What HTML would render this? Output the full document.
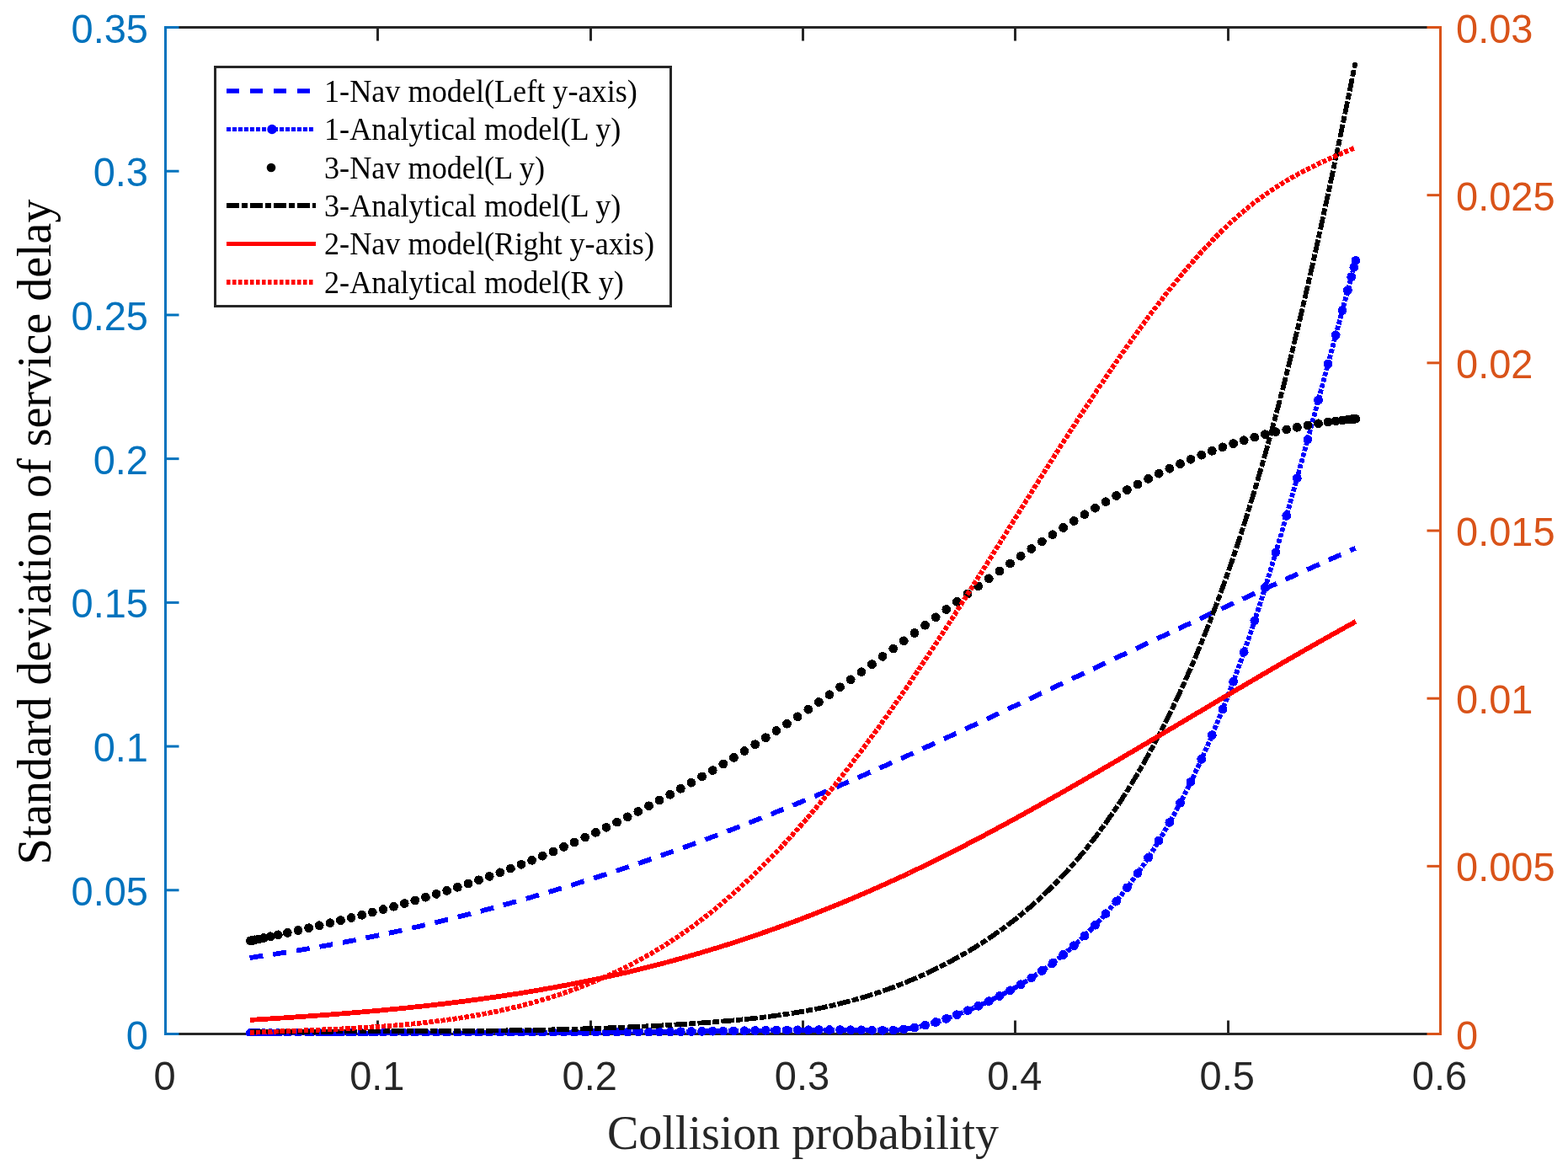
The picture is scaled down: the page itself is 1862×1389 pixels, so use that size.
<!DOCTYPE html>
<html><head><meta charset="utf-8"><style>
html,body{margin:0;padding:0;background:#fff;}
svg{display:block;}
text{font-family:"Liberation Sans",Arial,Helvetica,sans-serif;font-size:47px;}
.sf{font-family:"Liberation Serif","Times New Roman",Times,serif;}
.xl{font-size:56px;}
.lg{font-size:36.2px;}
</style></head><body>
<svg width="1862" height="1389" viewBox="0 0 1862 1389">
<defs><clipPath id="pc"><rect x="190" y="26" width="1526" height="1204"/></clipPath></defs>
<rect width="1862" height="1389" fill="#fff"/>
<line x1="196.50" y1="1227.5" x2="196.50" y2="1211.5" stroke="#262626" stroke-width="3"/>
<line x1="196.50" y1="32.5" x2="196.50" y2="48.5" stroke="#262626" stroke-width="3"/>
<line x1="448.50" y1="1227.5" x2="448.50" y2="1211.5" stroke="#262626" stroke-width="3"/>
<line x1="448.50" y1="32.5" x2="448.50" y2="48.5" stroke="#262626" stroke-width="3"/>
<line x1="701.50" y1="1227.5" x2="701.50" y2="1211.5" stroke="#262626" stroke-width="3"/>
<line x1="701.50" y1="32.5" x2="701.50" y2="48.5" stroke="#262626" stroke-width="3"/>
<line x1="953.50" y1="1227.5" x2="953.50" y2="1211.5" stroke="#262626" stroke-width="3"/>
<line x1="953.50" y1="32.5" x2="953.50" y2="48.5" stroke="#262626" stroke-width="3"/>
<line x1="1205.50" y1="1227.5" x2="1205.50" y2="1211.5" stroke="#262626" stroke-width="3"/>
<line x1="1205.50" y1="32.5" x2="1205.50" y2="48.5" stroke="#262626" stroke-width="3"/>
<line x1="1458.50" y1="1227.5" x2="1458.50" y2="1211.5" stroke="#262626" stroke-width="3"/>
<line x1="1458.50" y1="32.5" x2="1458.50" y2="48.5" stroke="#262626" stroke-width="3"/>
<line x1="1710.50" y1="1227.5" x2="1710.50" y2="1211.5" stroke="#262626" stroke-width="3"/>
<line x1="1710.50" y1="32.5" x2="1710.50" y2="48.5" stroke="#262626" stroke-width="3"/>
<line x1="195.0" y1="32.5" x2="1712.0" y2="32.5" stroke="#262626" stroke-width="3"/>
<line x1="195.0" y1="1227.5" x2="1712.0" y2="1227.5" stroke="#262626" stroke-width="3"/>
<text transform="translate(195.50,1278) scale(1,1.035)" y="15.5" text-anchor="middle" fill="#262626">0</text>
<text transform="translate(447.83,1278) scale(1,1.035)" y="15.5" text-anchor="middle" fill="#262626">0.1</text>
<text transform="translate(700.17,1278) scale(1,1.035)" y="15.5" text-anchor="middle" fill="#262626">0.2</text>
<text transform="translate(952.50,1278) scale(1,1.035)" y="15.5" text-anchor="middle" fill="#262626">0.3</text>
<text transform="translate(1204.83,1278) scale(1,1.035)" y="15.5" text-anchor="middle" fill="#262626">0.4</text>
<text transform="translate(1457.17,1278) scale(1,1.035)" y="15.5" text-anchor="middle" fill="#262626">0.5</text>
<text transform="translate(1709.50,1278) scale(1,1.035)" y="15.5" text-anchor="middle" fill="#262626">0.6</text>
<line x1="196.5" y1="31.0" x2="196.5" y2="1229.0" stroke="#0072BD" stroke-width="3"/>
<line x1="196.5" y1="1227.50" x2="212.5" y2="1227.50" stroke="#0072BD" stroke-width="3"/>
<text transform="translate(176,1229.50) scale(1,1.035)" y="15.5" text-anchor="end" fill="#0072BD">0</text>
<line x1="196.5" y1="1056.79" x2="212.5" y2="1056.79" stroke="#0072BD" stroke-width="3"/>
<text transform="translate(176,1058.79) scale(1,1.035)" y="15.5" text-anchor="end" fill="#0072BD">0.05</text>
<line x1="196.5" y1="886.07" x2="212.5" y2="886.07" stroke="#0072BD" stroke-width="3"/>
<text transform="translate(176,888.07) scale(1,1.035)" y="15.5" text-anchor="end" fill="#0072BD">0.1</text>
<line x1="196.5" y1="715.36" x2="212.5" y2="715.36" stroke="#0072BD" stroke-width="3"/>
<text transform="translate(176,717.36) scale(1,1.035)" y="15.5" text-anchor="end" fill="#0072BD">0.15</text>
<line x1="196.5" y1="544.64" x2="212.5" y2="544.64" stroke="#0072BD" stroke-width="3"/>
<text transform="translate(176,546.64) scale(1,1.035)" y="15.5" text-anchor="end" fill="#0072BD">0.2</text>
<line x1="196.5" y1="373.93" x2="212.5" y2="373.93" stroke="#0072BD" stroke-width="3"/>
<text transform="translate(176,375.93) scale(1,1.035)" y="15.5" text-anchor="end" fill="#0072BD">0.25</text>
<line x1="196.5" y1="203.21" x2="212.5" y2="203.21" stroke="#0072BD" stroke-width="3"/>
<text transform="translate(176,205.21) scale(1,1.035)" y="15.5" text-anchor="end" fill="#0072BD">0.3</text>
<line x1="196.5" y1="32.50" x2="212.5" y2="32.50" stroke="#0072BD" stroke-width="3"/>
<text transform="translate(176,34.50) scale(1,1.035)" y="15.5" text-anchor="end" fill="#0072BD">0.35</text>
<line x1="1710.5" y1="31.0" x2="1710.5" y2="1229.0" stroke="#D95319" stroke-width="3"/>
<line x1="1710.5" y1="1227.50" x2="1694.5" y2="1227.50" stroke="#D95319" stroke-width="3"/>
<text transform="translate(1729,1229.50) scale(1,1.035)" y="15.5" fill="#D95319">0</text>
<line x1="1710.5" y1="1028.33" x2="1694.5" y2="1028.33" stroke="#D95319" stroke-width="3"/>
<text transform="translate(1729,1030.33) scale(1,1.035)" y="15.5" fill="#D95319">0.005</text>
<line x1="1710.5" y1="829.17" x2="1694.5" y2="829.17" stroke="#D95319" stroke-width="3"/>
<text transform="translate(1729,831.17) scale(1,1.035)" y="15.5" fill="#D95319">0.01</text>
<line x1="1710.5" y1="630.00" x2="1694.5" y2="630.00" stroke="#D95319" stroke-width="3"/>
<text transform="translate(1729,632.00) scale(1,1.035)" y="15.5" fill="#D95319">0.015</text>
<line x1="1710.5" y1="430.83" x2="1694.5" y2="430.83" stroke="#D95319" stroke-width="3"/>
<text transform="translate(1729,432.83) scale(1,1.035)" y="15.5" fill="#D95319">0.02</text>
<line x1="1710.5" y1="231.67" x2="1694.5" y2="231.67" stroke="#D95319" stroke-width="3"/>
<text transform="translate(1729,233.67) scale(1,1.035)" y="15.5" fill="#D95319">0.025</text>
<line x1="1710.5" y1="32.50" x2="1694.5" y2="32.50" stroke="#D95319" stroke-width="3"/>
<text transform="translate(1729,34.50) scale(1,1.035)" y="15.5" fill="#D95319">0.03</text>
<text x="953.5" y="1363.5" text-anchor="middle" fill="#262626" class="sf xl">Collision probability</text>
<text transform="translate(60,631.5) rotate(-90)" text-anchor="middle" fill="#000" class="sf xl">Standard deviation of service delay</text>
<g clip-path="url(#pc)" shape-rendering="crispEdges">
<path d="M296.5 1137.0l1.5 -0.2l1.5 -0.2l1.5 -0.2l1.5 -0.2l1.4 -0.2l1.5 -0.3l1.5 -0.2l1.5 -0.2l1.5 -0.2l1.5 -0.2l1.5 -0.2l1.5 -0.2l1.4 -0.3l1.5 -0.2l1.5 -0.2l1.5 -0.2l1.5 -0.2l1.5 -0.3l1.5 -0.2l1.4 -0.2l1.5 -0.2l1.5 -0.3l1.5 -0.2l1.5 -0.2l1.5 -0.3l1.4 -0.2l1.5 -0.2l1.5 -0.2l1.5 -0.3l1.5 -0.2l1.5 -0.3l1.5 -0.2l1.4 -0.2l1.5 -0.3l1.5 -0.2l1.5 -0.3l1.5 -0.2l1.5 -0.2l1.4 -0.3l1.5 -0.2l1.5 -0.3l1.5 -0.2l1.5 -0.3l1.4 -0.2l1.5 -0.3l1.5 -0.2l1.5 -0.3l1.5 -0.2l1.4 -0.3l1.5 -0.2l1.5 -0.3l1.5 -0.3l1.5 -0.2l1.4 -0.3l1.5 -0.2l1.5 -0.3l1.5 -0.3l1.5 -0.2l1.4 -0.3l1.5 -0.2l1.5 -0.3l1.5 -0.3l1.5 -0.3l1.4 -0.2l1.5 -0.3l1.5 -0.3l1.5 -0.2l1.4 -0.3l1.5 -0.3l1.5 -0.3l1.5 -0.2l1.5 -0.3l1.4 -0.3l1.5 -0.3l1.5 -0.2l1.5 -0.3l1.4 -0.3l1.5 -0.3l1.5 -0.3l1.5 -0.3l1.4 -0.3l1.5 -0.2l1.5 -0.3l1.5 -0.3l1.4 -0.3l1.5 -0.3l1.5 -0.3l1.5 -0.3l1.4 -0.3l1.5 -0.3l1.5 -0.3l1.5 -0.3l1.4 -0.3l1.5 -0.3l1.5 -0.3l1.4 -0.3l1.5 -0.3l1.5 -0.3l1.5 -0.3l1.4 -0.3l1.5 -0.3l1.5 -0.3l1.4 -0.3l1.5 -0.3l1.5 -0.3l1.5 -0.3l1.4 -0.3l1.5 -0.3l1.5 -0.3l1.4 -0.4l1.5 -0.3l1.5 -0.3l1.4 -0.3l1.5 -0.3l1.5 -0.3l1.4 -0.4l1.5 -0.3l1.5 -0.3l1.4 -0.3l1.5 -0.3l1.5 -0.4l1.4 -0.3l1.5 -0.3l1.5 -0.3l1.4 -0.4l1.5 -0.3l1.5 -0.3l1.4 -0.4l1.5 -0.3l1.5 -0.3l1.4 -0.4l1.5 -0.3l1.5 -0.3l1.4 -0.4l1.5 -0.3l1.5 -0.3l1.4 -0.4l1.5 -0.3l1.5 -0.4l1.4 -0.3l1.5 -0.3l1.4 -0.4l1.5 -0.3l1.5 -0.4l1.4 -0.3l1.5 -0.4l1.5 -0.3l1.4 -0.4l1.5 -0.3l1.4 -0.4l1.5 -0.3l1.5 -0.4l1.4 -0.3l1.5 -0.4l1.4 -0.3l1.5 -0.4l1.5 -0.3l1.4 -0.4l1.5 -0.4l1.4 -0.3l1.5 -0.4l1.5 -0.3l1.4 -0.4l1.5 -0.4l1.4 -0.3l1.5 -0.4l1.4 -0.3l1.5 -0.4l1.5 -0.4l1.4 -0.3l1.5 -0.4l1.4 -0.4l1.5 -0.4l1.4 -0.3l1.5 -0.4l1.4 -0.4l1.5 -0.3l1.5 -0.4l1.4 -0.4l1.5 -0.4l1.4 -0.4l1.5 -0.3l1.4 -0.4l1.5 -0.4l1.4 -0.4l1.5 -0.4l1.4 -0.3l1.5 -0.4l1.4 -0.4l1.5 -0.4l1.5 -0.4l1.4 -0.4l1.5 -0.3l1.4 -0.4l1.5 -0.4l1.4 -0.4l1.5 -0.4l1.4 -0.4l1.5 -0.4l1.4 -0.4l1.5 -0.4l1.4 -0.4l1.5 -0.4l1.4 -0.4l1.5 -0.4l1.4 -0.4l1.5 -0.4l1.4 -0.4l1.5 -0.4l1.4 -0.4l1.4 -0.4l1.5 -0.4l1.4 -0.4l1.5 -0.4l1.4 -0.4l1.5 -0.4l1.4 -0.4l1.5 -0.4l1.4 -0.4l1.5 -0.4l1.4 -0.4l1.5 -0.5l1.4 -0.4l1.4 -0.4l1.5 -0.4l1.4 -0.4l1.5 -0.4l1.4 -0.4l1.5 -0.5l1.4 -0.4l1.4 -0.4l1.5 -0.4l1.4 -0.4l1.5 -0.5l1.4 -0.4l1.5 -0.4l1.4 -0.4l1.4 -0.4l1.5 -0.5l1.4 -0.4l1.5 -0.4l1.4 -0.5l1.4 -0.4l1.5 -0.4l1.4 -0.4l1.5 -0.5l1.4 -0.4l1.4 -0.4l1.5 -0.5l1.4 -0.4l1.5 -0.4l1.4 -0.5l1.4 -0.4l1.5 -0.4l1.4 -0.5l1.4 -0.4l1.5 -0.5l1.4 -0.4l1.5 -0.4l1.4 -0.5l1.4 -0.4l1.5 -0.5l1.4 -0.4l1.4 -0.5l1.5 -0.4l1.4 -0.5l1.4 -0.4l1.5 -0.5l1.4 -0.4l1.4 -0.5l1.5 -0.4l1.4 -0.5l1.4 -0.4l1.5 -0.5l1.4 -0.4l1.4 -0.5l1.5 -0.4l1.4 -0.5l1.4 -0.4l1.5 -0.5l1.4 -0.4l1.4 -0.5l1.4 -0.5l1.5 -0.4l1.4 -0.5l1.4 -0.4l1.5 -0.5l1.4 -0.5l1.4 -0.4l1.5 -0.5l1.4 -0.5l1.4 -0.4l1.4 -0.5l1.5 -0.5l1.4 -0.4l1.4 -0.5l1.5 -0.5l1.4 -0.4l1.4 -0.5l1.4 -0.5l1.5 -0.5l1.4 -0.4l1.4 -0.5l1.4 -0.5l1.5 -0.5l1.4 -0.4l1.4 -0.5l1.4 -0.5l1.5 -0.5l1.4 -0.5l1.4 -0.4l1.4 -0.5l1.4 -0.5l1.5 -0.5l1.4 -0.5l1.4 -0.4l1.4 -0.5l1.5 -0.5l1.4 -0.5l1.4 -0.5l1.4 -0.5l1.4 -0.5l1.5 -0.5l1.4 -0.4l1.4 -0.5l1.4 -0.5l1.4 -0.5l1.5 -0.5l1.4 -0.5l1.4 -0.5l1.4 -0.5l1.4 -0.5l1.5 -0.5l1.4 -0.5l1.4 -0.5l1.4 -0.5l1.4 -0.5l1.4 -0.5l1.5 -0.5l1.4 -0.5l1.4 -0.5l1.4 -0.5l1.4 -0.5l1.4 -0.5l1.5 -0.5l1.4 -0.5l1.4 -0.5l1.4 -0.5l1.4 -0.5l1.4 -0.5l1.4 -0.5l1.5 -0.5l1.4 -0.5l1.4 -0.6l1.4 -0.5l1.4 -0.5l1.4 -0.5l1.4 -0.5l1.4 -0.5l1.5 -0.5l1.4 -0.6l1.4 -0.5l1.4 -0.5l1.4 -0.5l1.4 -0.5l1.4 -0.5l1.4 -0.6l1.4 -0.5l1.5 -0.5l1.4 -0.5l1.4 -0.5l1.4 -0.6l1.4 -0.5l1.4 -0.5l1.4 -0.5l1.4 -0.6l1.4 -0.5l1.4 -0.5l1.4 -0.5l1.4 -0.6l1.4 -0.5l1.5 -0.5l1.4 -0.6l1.4 -0.5l1.4 -0.5l1.4 -0.6l1.4 -0.5l1.4 -0.5l1.4 -0.6l1.4 -0.5l1.4 -0.5l1.4 -0.6l1.4 -0.5l1.4 -0.5l1.4 -0.6l1.4 -0.5l1.4 -0.5l1.4 -0.6l1.4 -0.5l1.4 -0.6l1.4 -0.5l1.4 -0.5l1.4 -0.6l1.4 -0.5l1.4 -0.6l1.4 -0.5l1.4 -0.6l1.4 -0.5l1.4 -0.6l1.4 -0.5l1.4 -0.6l1.4 -0.5l1.4 -0.6l1.4 -0.5l1.4 -0.6l1.4 -0.5l1.4 -0.6l1.4 -0.5l1.4 -0.6l1.4 -0.5l1.4 -0.6l1.4 -0.5l1.4 -0.6l1.4 -0.5l1.4 -0.6l1.4 -0.6l1.4 -0.5l1.4 -0.6l1.4 -0.5l1.4 -0.6l1.3 -0.6l1.4 -0.5l1.4 -0.6l1.4 -0.5l1.4 -0.6l1.4 -0.6l1.4 -0.5l1.4 -0.6l1.4 -0.6l1.4 -0.5l1.4 -0.6l1.4 -0.6l1.4 -0.5l1.3 -0.6l1.4 -0.6l1.4 -0.5l1.4 -0.6l1.4 -0.6l1.4 -0.5l1.4 -0.6l1.4 -0.6l1.4 -0.6l1.4 -0.5l1.3 -0.6l1.4 -0.6l1.4 -0.6l1.4 -0.5l1.4 -0.6l1.4 -0.6l1.4 -0.6l1.4 -0.5l1.3 -0.6l1.4 -0.6l1.4 -0.6l1.4 -0.6l1.4 -0.5l1.4 -0.6l1.4 -0.6l1.3 -0.6l1.4 -0.6l1.4 -0.6l1.4 -0.5l1.4 -0.6l1.4 -0.6l1.3 -0.6l1.4 -0.6l1.4 -0.6l1.4 -0.6l1.4 -0.6l1.4 -0.5l1.3 -0.6l1.4 -0.6l1.4 -0.6l1.4 -0.6l1.4 -0.6l1.3 -0.6l1.4 -0.6l1.4 -0.6l1.4 -0.6l1.4 -0.6l1.3 -0.6l1.4 -0.6l1.4 -0.6l1.4 -0.6l1.4 -0.6l1.3 -0.6l1.4 -0.6l1.4 -0.5l1.4 -0.6l1.3 -0.6l1.4 -0.6l1.4 -0.6l1.4 -0.7l1.4 -0.6l1.3 -0.6l1.4 -0.6l1.4 -0.6l1.4 -0.6l1.3 -0.6l1.4 -0.6l1.4 -0.6l1.4 -0.6l1.3 -0.6l1.4 -0.6l1.4 -0.6l1.4 -0.6l1.3 -0.6l1.4 -0.6l1.4 -0.6l1.4 -0.6l1.3 -0.7l1.4 -0.6l1.4 -0.6l1.3 -0.6l1.4 -0.6l1.4 -0.6l1.4 -0.6l1.3 -0.6l1.4 -0.6l1.4 -0.7l1.3 -0.6l1.4 -0.6l1.4 -0.6l1.4 -0.6l1.3 -0.6l1.4 -0.6l1.4 -0.7l1.3 -0.6l1.4 -0.6l1.4 -0.6l1.4 -0.6l1.3 -0.6l1.4 -0.7l1.4 -0.6l1.3 -0.6l1.4 -0.6l1.4 -0.6l1.3 -0.7l1.4 -0.6l1.4 -0.6l1.3 -0.6l1.4 -0.6l1.4 -0.7l1.3 -0.6l1.4 -0.6l1.4 -0.6l1.3 -0.7l1.4 -0.6l1.4 -0.6l1.3 -0.6l1.4 -0.6l1.4 -0.7l1.3 -0.6l1.4 -0.6l1.4 -0.6l1.3 -0.7l1.4 -0.6l1.4 -0.6l1.3 -0.7l1.4 -0.6l1.4 -0.6l1.3 -0.6l1.4 -0.7l1.4 -0.6l1.3 -0.6l1.4 -0.6l1.4 -0.7l1.3 -0.6l1.4 -0.6l1.4 -0.7l1.3 -0.6l1.4 -0.6l1.3 -0.7l1.4 -0.6l1.4 -0.6l1.3 -0.7l1.4 -0.6l1.4 -0.6l1.3 -0.6l1.4 -0.7l1.4 -0.6l1.3 -0.6l1.4 -0.7l1.3 -0.6l1.4 -0.6l1.4 -0.7l1.3 -0.6l1.4 -0.6l1.4 -0.7l1.3 -0.6l1.4 -0.6l1.3 -0.7l1.4 -0.6l1.4 -0.7l1.3 -0.6l1.4 -0.6l1.3 -0.7l1.4 -0.6l1.4 -0.6l1.3 -0.7l1.4 -0.6l1.4 -0.6l1.3 -0.7l1.4 -0.6l1.3 -0.7l1.4 -0.6l1.4 -0.6l1.3 -0.7l1.4 -0.6l1.3 -0.6l1.4 -0.7l1.4 -0.6l1.3 -0.7l1.4 -0.6l1.3 -0.6l1.4 -0.7l1.4 -0.6l1.3 -0.7l1.4 -0.6l1.3 -0.6l1.4 -0.7l1.4 -0.6l1.3 -0.7l1.4 -0.6l1.3 -0.6l1.4 -0.7l1.3 -0.6l1.4 -0.7l1.4 -0.6l1.3 -0.6l1.4 -0.7l1.3 -0.6l1.4 -0.7l1.4 -0.6l1.3 -0.6l1.4 -0.7l1.3 -0.6l1.4 -0.7l1.4 -0.6l1.3 -0.6l1.4 -0.7l1.3 -0.6l1.4 -0.7l1.3 -0.6l1.4 -0.7l1.4 -0.6l1.3 -0.6l1.4 -0.7l1.3 -0.6l1.4 -0.7l1.4 -0.6l1.3 -0.7l1.4 -0.6l1.3 -0.6l1.4 -0.7l1.3 -0.6l1.4 -0.7l1.4 -0.6l1.3 -0.7l1.4 -0.6l1.3 -0.6l1.4 -0.7l1.3 -0.6l1.4 -0.7l1.4 -0.6l1.3 -0.7l1.4 -0.6l1.3 -0.6l1.4 -0.7l1.4 -0.6l1.3 -0.7l1.4 -0.6l1.3 -0.7l1.4 -0.6l1.3 -0.6l1.4 -0.7l1.4 -0.6l1.3 -0.7l1.4 -0.6l1.3 -0.7l1.4 -0.6l1.3 -0.6l1.4 -0.7l1.4 -0.6l1.3 -0.7l1.4 -0.6l1.3 -0.7l1.4 -0.6l1.4 -0.6l1.3 -0.7l1.4 -0.6l1.3 -0.7l1.4 -0.6l1.3 -0.7l1.4 -0.6l1.4 -0.6l1.3 -0.7l1.4 -0.6l1.3 -0.7l1.4 -0.6l1.4 -0.7l1.3 -0.6l1.4 -0.6l1.3 -0.7l1.4 -0.6l1.3 -0.7l1.4 -0.6l1.4 -0.6l1.3 -0.7l1.4 -0.6l1.3 -0.7l1.4 -0.6l1.4 -0.7l1.3 -0.6l1.4 -0.6l1.3 -0.7l1.4 -0.6l1.4 -0.7l1.3 -0.6l1.4 -0.6l1.3 -0.7l1.4 -0.6l1.3 -0.7l1.4 -0.6l1.4 -0.6l1.3 -0.7l1.4 -0.6l1.3 -0.7l1.4 -0.6l1.4 -0.6l1.3 -0.7l1.4 -0.6l1.3 -0.7l1.4 -0.6l1.4 -0.6l1.3 -0.7l1.4 -0.6l1.3 -0.7l1.4 -0.6l1.4 -0.6l1.3 -0.7l1.4 -0.6l1.3 -0.6l1.4 -0.7l1.4 -0.6l1.3 -0.7l1.4 -0.6l1.3 -0.6l1.4 -0.7l1.4 -0.6l1.3 -0.6l1.4 -0.7l1.3 -0.6l1.4 -0.7l1.4 -0.6l1.3 -0.6l1.4 -0.7l1.3 -0.6l1.4 -0.6l1.4 -0.7l1.3 -0.6l1.4 -0.7l1.4 -0.6l1.3 -0.6l1.4 -0.7l1.3 -0.6l1.4 -0.6l1.4 -0.7l1.3 -0.6l1.4 -0.6l1.3 -0.7l1.4 -0.6l1.4 -0.6l1.3 -0.7l1.4 -0.6l1.4 -0.6l1.3 -0.7l1.4 -0.6l1.3 -0.6l1.4 -0.7l1.4 -0.6l1.3 -0.7l1.4 -0.6l1.4 -0.6l1.3 -0.7l1.4 -0.6l1.3 -0.6l1.4 -0.6l1.4 -0.7l1.3 -0.6l1.4 -0.6l1.4 -0.7l1.3 -0.6l1.4 -0.6l1.3 -0.7l1.4 -0.6l1.4 -0.6l1.3 -0.7l1.4 -0.6l1.4 -0.6l1.3 -0.7l1.4 -0.6l1.3 -0.6l1.4 -0.7l1.4 -0.6l1.3 -0.6l1.4 -0.6l1.4 -0.7l1.3 -0.6l1.4 -0.6l1.4 -0.7l1.3 -0.6l1.4 -0.6l1.4 -0.7l1.3 -0.6l1.4 -0.6l1.3 -0.6l1.4 -0.7l1.4 -0.6l1.3 -0.6l1.4 -0.7l1.4 -0.6l1.3 -0.6l1.4 -0.6l1.4 -0.7l1.3 -0.6l1.4 -0.6l1.4 -0.6l1.3 -0.7l1.4 -0.6l1.4 -0.6l1.3 -0.7l1.4 -0.6l1.4 -0.6l1.3 -0.6l1.4 -0.7l1.4 -0.6l1.3 -0.6l1.4 -0.6l1.4 -0.7l1.3 -0.6l1.4 -0.6l1.4 -0.6l1.3 -0.7l1.4 -0.6l1.4 -0.6l1.3 -0.6l1.4 -0.6l1.4 -0.7l1.3 -0.6l1.4 -0.6l1.4 -0.6l1.3 -0.7l1.4 -0.6l1.4 -0.6l1.3 -0.6l1.4 -0.6l1.4 -0.7l1.3 -0.6l1.4 -0.6l1.4 -0.6l1.3 -0.7l1.4 -0.6l1.4 -0.6l1.3 -0.6l1.4 -0.6l1.4 -0.7l1.3 -0.6l1.4 -0.6l1.4 -0.6l1.4 -0.6l1.3 -0.7l1.4 -0.6l1.4 -0.6l1.3 -0.6l1.4 -0.6l1.4 -0.6l1.3 -0.7l1.4 -0.6l1.4 -0.6l1.3 -0.6l1.4 -0.6l1.4 -0.6l1.4 -0.7l1.3 -0.6l1.4 -0.6l1.4 -0.6l1.3 -0.6l1.4 -0.6l1.4 -0.7l1.4 -0.6l1.3 -0.6l1.4 -0.6l1.4 -0.6l1.3 -0.6l1.4 -0.6l1.4 -0.7l1.4 -0.6l1.3 -0.6l1.4 -0.6l1.4 -0.6l1.3 -0.6l1.4 -0.6l1.4 -0.6l1.4 -0.7l1.3 -0.6l1.4 -0.6l1.4 -0.6l1.3 -0.6l1.4 -0.6l1.4 -0.6l1.4 -0.6l1.3 -0.6l1.4 -0.6l1.4 -0.7l1.4 -0.6l1.3 -0.6l1.4 -0.6l1.4 -0.6l1.4 -0.6l1.3 -0.6l1.4 -0.6l1.4 -0.6l1.4 -0.6l1.3 -0.6l1.4 -0.6" fill="none" stroke="#00f" stroke-width="5.8" stroke-dasharray="16 12" stroke-linejoin="round"/>
<path d="M297.0 1226.5l1 0.0l1 0.0l1 0.0l1 0.0l1 0.0l1 0.0l1 0.0l1 0.0l1 0.0l1 0.0l1 0.0l1 0.0l1 0.0l1 0.0l1 0.0l1 0.0l1 0.0l1 0.0l1 0.0l1 0.0l1 0.0l1 0.0l1 0.0l1 0.0l1 0.0l1 0.0l1 0.0l1 0.0l1 0.0l1 0.0l1 0.0l1 0.0l1 0.0l1 0.0l1 0.0l1 0.0l1 0.0l1 0.0l1 0.0l1 0.0l1 0.0l1 0.0l1 0.0l1 0.0l1 0.0l1 0.0l1 0.0l1 0.0l1 0.0l1 0.0l1 0.0l1 0.0l1 0.0l1 0.0l1 0.0l1 0.0l1 0.0l1.1 0.0l1 0.0l1 0.0l1 0.0l1 0.0l1 0.0l1 0.0l1 0.0l1 0.0l1 0.0l1 0.0l1 0.0l1 0.0l1 0.0l1 0.1l1 0.0l1 0.0l1 0.0l1 0.0l1 0.0l1 0.0l1 0.0l1 0.0l1 0.0l1 0.0l1 0.0l1 0.0l1 0.0l1 0.0l1 0.0l1 0.0l1 0.0l1 0.0l1 0.0l1 0.0l1 0.0l1 0.0l1 0.0l1 0.0l1 0.0l1 0.0l1 0.0l1 0.0l1 0.0l1 0.0l1 0.0l1 0.0l1 0.0l1 0.0l1 0.0l1 0.0l1 0.0l1 0.0l1 0.0l1 0.0l1 0.0l1 0.0l1 0.0l1 0.0l1 0.0l1 0.0l1 0.0l1 0.0l1 0.0l1 0.0l1 0.0l1 0.0l1 0.0l1 0.0l1 0.0l1 0.0l1 0.0l1 0.0l1 0.0l1 0.0l1 0.0l1 0.0l1 0.0l1 0.0l1 0.0l1 0.0l1 0.0l1 0.0l1 0.0l1 0.0l1 0.0l1 0.0l1 0.0l1 0.0l1 0.0l1 0.0l1 0.0l1 0.0l1 0.0l1 0.0l1 -0.1l1 0.0l1 0.0l1 0.0l1 0.0l1 0.0l1 0.0l1 0.0l1 0.0l1 0.0l1 0.0l1 0.0l1 0.0l1 0.0l1 0.0l1 0.0l1 0.0l1 0.0l1 0.0l1 0.0l1 0.0l1.1 0.0l1 0.0l1 0.0l1 0.0l1 0.0l1 0.0l1 0.0l1 0.0l1 0.0l1 0.0l1 0.0l1 0.0l1 0.0l1 0.0l1 0.0l1 0.0l1 0.0l1 0.0l1 0.0l1 0.0l1 0.0l1 0.0l1 0.0l1 0.0l1 0.0l1 0.0l1 0.0l1 0.0l1 0.0l1 0.0l1 0.0l1 0.0l1 0.0l1 0.0l1 0.0l1 0.0l1 0.0l1 0.0l1 0.0l1 0.0l1 0.0l1 0.0l1 0.0l1 0.0l1 0.0l1 0.0l1 0.0l1 0.0l1 0.0l1 0.0l1 0.0l1 0.0l1 0.0l1 0.0l1 0.0l1 0.0l1 0.0l1 0.0l1 -0.1l1 0.0l1 0.0l1 0.0l1 0.0l1 0.0l1 0.0l1 0.0l1 0.0l1 0.0l1 0.0l1 0.0l1 0.0l1 0.0l1 0.0l1 0.0l1 0.0l1 0.0l1 0.0l1 0.0l1 0.0l1 0.0l1 0.0l1 0.0l1 0.0l1 0.0l1 0.0l1 0.0l1 0.0l1 0.0l1 0.0l1 0.0l1 0.0l1 0.0l1 0.0l1 0.0l1 0.0l1 0.0l1 0.0l1 0.0l1 -0.1l1 0.0l1 0.0l1 0.0l1 0.0l1 0.0l1 0.0l1 0.0l1 0.0l1 0.0l1 0.0l1 0.0l1 0.0l1 0.0l1 0.0l1 0.0l1 0.0l1 0.0l1.1 0.0l1 0.0l1 0.0l1 0.0l1 0.0l1 0.0l1 0.0l1 0.0l1 0.0l1 0.0l1 0.0l1 0.0l1 -0.1l1 0.0l1 0.0l1 0.0l1 0.0l1 0.0l1 0.0l1 0.0l1 0.0l1 0.0l1 0.0l1 0.0l1 0.0l1 0.0l1 0.0l1 0.0l1 0.0l1 0.0l1 0.0l1 0.0l1 0.0l1 0.0l1 0.0l1 0.0l1 -0.1l1 0.0l1 0.0l1 0.0l1 0.0l1 0.0l1 0.0l1 0.0l1 0.0l1 0.0l1 0.0l1 0.0l1 0.0l1 0.0l1 0.0l1 0.0l1 0.0l1 0.0l1 0.0l1 0.0l1 0.0l1 -0.1l1 0.0l1 0.0l1 0.0l1 0.0l1 0.0l1 0.0l1 0.0l1 0.0l1 0.0l1 0.0l1 0.0l1 0.0l1 0.0l1 0.0l1 0.0l1 0.0l1 0.0l1 -0.1l1 0.0l1 0.0l1 0.0l1 0.0l1 0.0l1 0.0l1 0.0l1 0.0l1 0.0l1 0.0l1 0.0l1 0.0l1 0.0l1 0.0l1 0.0l1 0.0l1 -0.1l1 0.0l1 0.0l1 0.0l1 0.0l1 0.0l1 0.0l1 0.0l1 0.0l1 0.0l1 0.0l1 0.0l1 0.0l1 0.0l1 0.0l1 -0.1l1 0.0l1 0.0l1 0.0l1 0.0l1 0.0l1 0.0l1 0.0l1 0.0l1 0.0l1 0.0l1.1 0.0l1 0.0l1 0.0l1 -0.1l1 0.0l1 0.0l1 0.0l1 0.0l1 0.0l1 0.0l1 0.0l1 0.0l1 0.0l1 0.0l1 0.0l1 0.0l1 -0.1l1 0.0l1 0.0l1 0.0l1 0.0l1 0.0l1 0.0l1 0.0l1 0.0l1 0.0l1 0.0l1 0.0l1 0.0l1 -0.1l1 0.0l1 0.0l1 0.0l1 0.0l1 0.0l1 0.0l1 0.0l1 0.0l1 0.0l1 0.0l1 -0.1l1 0.0l1 0.0l1 0.0l1 0.0l1 0.0l1 0.0l1 0.0l1 0.0l1 0.0l1 0.0l1 -0.1l1 0.0l1 0.0l1 0.0l1 0.0l1 0.0l1 0.0l1 0.0l1 0.0l1 0.0l1 0.0l1 -0.1l1 0.0l1 0.0l1 0.0l1 0.0l1 0.0l1 0.0l1 0.0l1 0.0l1 0.0l1 -0.1l1 0.0l1 0.0l1 0.0l1 0.0l1 0.0l1 0.0l1 0.0l1 0.0l1 0.0l1 -0.1l1 0.0l1 0.0l1 0.0l1 0.0l1 0.0l1 0.0l1 0.0l1 0.0l1 -0.1l1 0.0l1 0.0l1 0.0l1 0.0l1 0.0l1 0.0l1 0.0l1 0.0l1 -0.1l1 0.0l1 0.0l1 0.0l1 0.0l1 0.0l1 0.0l1 0.0l1 0.0l1 -0.1l1 0.0l1 0.0l1 0.0l1 0.0l1 0.0l1 0.0l1 0.0l1 -0.1l1 0.0l1 0.0l1 0.0l1 0.0l1.1 0.0l1 0.0l1 0.0l1 -0.1l1 0.0l1 0.0l1 0.0l1 0.0l1 0.0l1 0.0l1 0.0l1 -0.1l1 0.0l1 0.0l1 0.0l1 0.0l1 0.0l1 0.0l1 0.0l1 -0.1l1 0.0l1 0.0l1 0.0l1 0.0l1 0.0l1 0.0l1 -0.1l1 0.0l1 0.0l1 0.0l1 0.0l1 0.0l1 0.0l1 0.0l1 -0.1l1 0.0l1 0.0l1 0.0l1 0.0l1 0.0l1 0.0l1 -0.1l1 0.0l1 0.0l1 0.0l1 0.0l1 0.0l1 -0.1l1 0.0l1 0.0l1 0.0l1 0.0l1 0.0l1 0.0l1 -0.1l1 0.0l1 0.0l1 0.0l1 0.0l1 0.0l1 0.0l1 -0.1l1 0.0l1 0.0l1 0.0l1 0.0l1 0.0l1 -0.1l1 0.0l1 0.0l1 0.0l1 0.0l1 0.0l1 0.0l1 -0.1l1 0.0l1 0.0l1 0.0l1 0.0l1 0.0l1 -0.1l1 0.0l1 0.0l1 0.0l1 0.0l1 0.0l1 0.0l1 -0.1l1 0.0l1 0.0l1 0.0l1 0.0l1 0.0l1 0.0l1 -0.1l1 0.0l1 0.0l1 0.0l1 0.0l1 0.0l1 0.0l1 -0.1l1 0.0l1 0.0l1 0.0l1 0.0l1 0.0l1 0.0l1 -0.1l1 0.0l1 0.0l1 0.0l1 0.0l1 0.0l1 0.0l1 0.0l1 0.0l1 -0.1l1 0.0l1 0.0l1 0.0l1 0.0l1 0.0l1 0.0l1 0.0l1 0.0l1 -0.1l1 0.0l1 0.0l1 0.0l1.1 0.0l1 0.0l1 0.0l1 0.0l1 0.0l1 0.0l1 0.0l1 0.0l1 0.0l1 -0.1l1 0.0l1 0.0l1 0.0l1 0.0l1 0.0l1 0.0l1 0.0l1 0.0l1 0.0l1 0.0l1 0.0l1 0.0l1 0.0l1 0.0l1 0.0l1 0.0l1 0.0l1 0.0l1 0.0l1 0.0l1 0.0l1 0.0l1 0.0l1 0.0l1 0.0l1 0.0l1 0.0l1 0.0l1 0.0l1 0.0l1 0.0l1 0.0l1 0.0l1 0.0l1 0.0l1 0.0l1 0.0l1 0.0l1 0.0l1 0.1l1 0.0l1 0.0l1 0.0l1 0.0l1 0.0l1 0.0l1 0.0l1 0.0l1 0.0l1 0.1l1 0.0l1 0.0l1 0.0l1 0.0l1 0.0l1 0.0l1 0.0l1 0.1l1 0.0l1 0.0l1 0.0l1 0.0l1 0.0l1 0.1l1 0.0l1 0.0l1 0.0l1 0.0l1 0.1l1 0.0l1 0.0l1 0.0l1 0.1l1 0.0l1 0.0l1 0.0l1 0.0l1 0.0l1 0.1l1 0.0l1 0.0l1 0.0l1 0.0l1 0.0l1 0.0l1 0.0l1 0.0l1 0.0l1 -0.1l1 0.0l1 0.0l1 -0.1l1 0.0l1 0.0l1 -0.1l1 -0.1l1 0.0l1 -0.1l1 -0.1l1 -0.1l1 0.0l1 -0.1l1 -0.1l1 -0.2l1 -0.1l1 -0.1l1 -0.1l1 -0.1l1 -0.2l1 -0.1l1 -0.2l0.9 -0.1l1 -0.2l1 -0.1l1 -0.2l1 -0.2l1 -0.1l1 -0.2l0.9 -0.2l1 -0.2l1 -0.2l1 -0.2l1 -0.2l0.9 -0.2l1 -0.2l1 -0.2l1 -0.3l1 -0.2l0.9 -0.2l1 -0.3l1 -0.2l0.9 -0.2l1 -0.3l1 -0.2l0.9 -0.3l1 -0.2l1 -0.3l0.9 -0.3l1 -0.2l1 -0.3l0.9 -0.3l1 -0.3l1 -0.3l0.9 -0.2l1 -0.3l0.9 -0.3l1 -0.3l0.9 -0.3l1 -0.3l1 -0.3l0.9 -0.3l1 -0.3l0.9 -0.4l1 -0.3l0.9 -0.3l1 -0.3l0.9 -0.3l0.9 -0.4l1 -0.3l0.9 -0.3l1 -0.4l0.9 -0.3l1 -0.3l0.9 -0.4l0.9 -0.3l1 -0.4l0.9 -0.3l1 -0.4l0.9 -0.3l0.9 -0.4l1 -0.3l0.9 -0.4l0.9 -0.3l1 -0.4l0.9 -0.4l0.9 -0.3l1 -0.4l0.9 -0.4l0.9 -0.3l1 -0.4l0.9 -0.4l0.9 -0.4l0.9 -0.3l1 -0.4l0.9 -0.4l0.9 -0.4l0.9 -0.4l1 -0.3l0.9 -0.4l0.9 -0.4l0.9 -0.4l1 -0.4l0.9 -0.4l0.9 -0.4l0.9 -0.4l0.9 -0.4l1 -0.4l0.9 -0.4l0.9 -0.4l0.9 -0.4l0.9 -0.4l0.9 -0.4l1 -0.4l0.9 -0.4l0.9 -0.4l0.9 -0.4l0.9 -0.4l0.9 -0.4l0.9 -0.4l0.9 -0.5l0.9 -0.4l1 -0.4l0.9 -0.4l0.9 -0.5l0.9 -0.4l0.9 -0.4l0.9 -0.4l0.9 -0.5l0.9 -0.4l0.9 -0.4l0.9 -0.5l0.9 -0.4l0.9 -0.5l0.9 -0.4l0.9 -0.5l0.9 -0.4l0.9 -0.4l0.9 -0.5l0.9 -0.5l0.8 -0.4l0.9 -0.5l0.9 -0.4l0.9 -0.5l0.9 -0.4l0.9 -0.5l0.9 -0.5l0.9 -0.4l0.8 -0.5l0.9 -0.5l0.9 -0.5l0.9 -0.4l0.9 -0.5l0.8 -0.5l0.9 -0.5l0.9 -0.5l0.9 -0.5l0.8 -0.4l0.9 -0.5l0.9 -0.5l0.9 -0.5l0.8 -0.5l0.9 -0.5l0.9 -0.5l0.8 -0.5l0.9 -0.5l0.8 -0.5l0.9 -0.5l0.9 -0.6l0.8 -0.5l0.9 -0.5l0.8 -0.5l0.9 -0.5l0.9 -0.5l0.8 -0.6l0.9 -0.5l0.8 -0.5l0.9 -0.5l0.8 -0.6l0.8 -0.5l0.9 -0.6l0.8 -0.5l0.9 -0.5l0.8 -0.6l0.9 -0.5l0.8 -0.6l0.8 -0.5l0.9 -0.6l0.8 -0.5l0.8 -0.6l0.9 -0.5l0.8 -0.6l0.8 -0.6l0.9 -0.5l0.8 -0.6l0.8 -0.6l0.8 -0.5l0.8 -0.6l0.9 -0.6l0.8 -0.5l0.8 -0.6l0.8 -0.6l0.8 -0.6l0.8 -0.6l0.9 -0.6l0.8 -0.5l0.8 -0.6l0.8 -0.6l0.8 -0.6l0.8 -0.6l0.8 -0.6l0.8 -0.6l0.8 -0.6l0.8 -0.6l0.8 -0.6l0.8 -0.6l0.8 -0.7l0.8 -0.6l0.8 -0.6l0.7 -0.6l0.8 -0.6l0.8 -0.6l0.8 -0.7l0.8 -0.6l0.8 -0.6l0.7 -0.6l0.8 -0.7l0.8 -0.6l0.8 -0.6l0.7 -0.7l0.8 -0.6l0.8 -0.6l0.7 -0.7l0.8 -0.6l0.8 -0.7l0.7 -0.6l0.8 -0.7l0.8 -0.6l0.7 -0.7l0.8 -0.6l0.7 -0.7l0.8 -0.6l0.7 -0.7l0.8 -0.7l0.7 -0.6l0.8 -0.7l0.7 -0.7l0.8 -0.6l0.7 -0.7l0.8 -0.7l0.7 -0.6l0.7 -0.7l0.8 -0.7l0.7 -0.7l0.8 -0.7l0.7 -0.6l0.7 -0.7l0.7 -0.7l0.8 -0.7l0.7 -0.7l0.7 -0.7l0.7 -0.7l0.8 -0.7l0.7 -0.7l0.7 -0.7l0.7 -0.7l0.7 -0.7l0.7 -0.7l0.8 -0.7l0.7 -0.7l0.7 -0.7l0.7 -0.7l0.7 -0.7l0.7 -0.7l0.7 -0.7l0.7 -0.7l0.7 -0.8l0.7 -0.7l0.7 -0.7l0.7 -0.7l0.7 -0.7l0.7 -0.8l0.6 -0.7l0.7 -0.7l0.7 -0.7l0.7 -0.8l0.7 -0.7l0.7 -0.7l0.7 -0.8l0.6 -0.7l0.7 -0.7l0.7 -0.8l0.7 -0.7l0.6 -0.8l0.7 -0.7l0.7 -0.8l0.6 -0.7l0.7 -0.7l0.7 -0.8l0.6 -0.7l0.7 -0.8l0.7 -0.7l0.6 -0.8l0.7 -0.8l0.6 -0.7l0.7 -0.8l0.6 -0.7l0.7 -0.8l0.6 -0.7l0.7 -0.8l0.6 -0.8l0.7 -0.7l0.6 -0.8l0.7 -0.8l0.6 -0.7l0.6 -0.8l0.7 -0.8l0.6 -0.7l0.7 -0.8l0.6 -0.8l0.6 -0.8l0.7 -0.7l0.6 -0.8l0.6 -0.8l0.6 -0.8l0.7 -0.8l0.6 -0.8l0.6 -0.7l0.6 -0.8l0.6 -0.8l0.7 -0.8l0.6 -0.8l0.6 -0.8l0.6 -0.8l0.6 -0.8l0.6 -0.7l0.6 -0.8l0.7 -0.8l0.6 -0.8l0.6 -0.8l0.6 -0.8l0.6 -0.8l0.6 -0.8l0.6 -0.8l0.6 -0.8l0.6 -0.8l0.6 -0.8l0.6 -0.8l0.5 -0.9l0.6 -0.8l0.6 -0.8l0.6 -0.8l0.6 -0.8l0.6 -0.8l0.6 -0.8l0.6 -0.8l0.5 -0.8l0.6 -0.9l0.6 -0.8l0.6 -0.8l0.5 -0.8l0.6 -0.8l0.6 -0.9l0.6 -0.8l0.5 -0.8l0.6 -0.8l0.6 -0.8l0.5 -0.9l0.6 -0.8l0.6 -0.8l0.5 -0.8l0.6 -0.9l0.6 -0.8l0.5 -0.8l0.6 -0.9l0.5 -0.8l0.6 -0.8l0.5 -0.9l0.6 -0.8l0.5 -0.8l0.6 -0.9l0.5 -0.8l0.6 -0.8l0.5 -0.9l0.6 -0.8l0.5 -0.9l0.6 -0.8l0.5 -0.8l0.5 -0.9l0.6 -0.8l0.5 -0.9l0.6 -0.8l0.5 -0.9l0.5 -0.8l0.6 -0.9l0.5 -0.8l0.5 -0.9l0.6 -0.8l0.5 -0.9l0.5 -0.8l0.5 -0.9l0.6 -0.8l0.5 -0.9l0.5 -0.8l0.5 -0.9l0.5 -0.8l0.6 -0.9l0.5 -0.8l0.5 -0.9l0.5 -0.9l0.5 -0.8l0.5 -0.9l0.5 -0.8l0.6 -0.9l0.5 -0.9l0.5 -0.8l0.5 -0.9l0.5 -0.9l0.5 -0.8l0.5 -0.9l0.5 -0.8l0.5 -0.9l0.5 -0.9l0.5 -0.8l0.5 -0.9l0.5 -0.9l0.5 -0.9l0.5 -0.8l0.5 -0.9l0.5 -0.9l0.5 -0.8l0.5 -0.9l0.4 -0.9l0.5 -0.9l0.5 -0.8l0.5 -0.9l0.5 -0.9l0.5 -0.9l0.5 -0.8l0.4 -0.9l0.5 -0.9l0.5 -0.9l0.5 -0.8l0.5 -0.9l0.4 -0.9l0.5 -0.9l0.5 -0.9l0.5 -0.8l0.4 -0.9l0.5 -0.9l0.5 -0.9l0.5 -0.9l0.4 -0.9l0.5 -0.8l0.5 -0.9l0.4 -0.9l0.5 -0.9l0.5 -0.9l0.4 -0.9l0.5 -0.9l0.4 -0.8l0.5 -0.9l0.5 -0.9l0.4 -0.9l0.5 -0.9l0.4 -0.9l0.5 -0.9l0.4 -0.9l0.5 -0.9l0.5 -0.9l0.4 -0.9l0.5 -0.8l0.4 -0.9l0.5 -0.9l0.4 -0.9l0.5 -0.9l0.4 -0.9l0.4 -0.9l0.5 -0.9l0.4 -0.9l0.5 -0.9l0.4 -0.9l0.5 -0.9l0.4 -0.9l0.4 -0.9l0.5 -0.9l0.4 -0.9l0.5 -0.9l0.4 -0.9l0.4 -0.9l0.5 -0.9l0.4 -0.9l0.4 -0.9l0.5 -0.9l0.4 -0.9l0.4 -0.9l0.5 -0.9l0.4 -0.9l0.4 -0.9l0.4 -0.9l0.5 -0.9l0.4 -1.0l0.4 -0.9l0.4 -0.9l0.5 -0.9l0.4 -0.9l0.4 -0.9l0.4 -0.9l0.4 -0.9l0.5 -0.9l0.4 -0.9l0.4 -0.9l0.4 -0.9l0.4 -1.0l0.4 -0.9l0.5 -0.9l0.4 -0.9l0.4 -0.9l0.4 -0.9l0.4 -0.9l0.4 -0.9l0.4 -0.9l0.4 -1.0l0.4 -0.9l0.5 -0.9l0.4 -0.9l0.4 -0.9l0.4 -0.9l0.4 -1.0l0.4 -0.9l0.4 -0.9l0.4 -0.9l0.4 -0.9l0.4 -0.9l0.4 -1.0l0.4 -0.9l0.4 -0.9l0.4 -0.9l0.4 -0.9l0.4 -0.9l0.4 -1.0l0.4 -0.9l0.4 -0.9l0.3 -0.9l0.4 -0.9l0.4 -1.0l0.4 -0.9l0.4 -0.9l0.4 -0.9l0.4 -0.9l0.4 -1.0l0.4 -0.9l0.4 -0.9l0.3 -0.9l0.4 -1.0l0.4 -0.9l0.4 -0.9l0.4 -0.9l0.4 -1.0l0.4 -0.9l0.3 -0.9l0.4 -0.9l0.4 -1.0l0.4 -0.9l0.4 -0.9l0.3 -0.9l0.4 -1.0l0.4 -0.9l0.4 -0.9l0.3 -0.9l0.4 -1.0l0.4 -0.9l0.4 -0.9l0.3 -1.0l0.4 -0.9l0.4 -0.9l0.4 -0.9l0.3 -1.0l0.4 -0.9l0.4 -0.9l0.3 -1.0l0.4 -0.9l0.4 -0.9l0.3 -1.0l0.4 -0.9l0.4 -0.9l0.3 -1.0l0.4 -0.9l0.4 -0.9l0.3 -1.0l0.4 -0.9l0.4 -0.9l0.3 -1.0l0.4 -0.9l0.3 -0.9l0.4 -1.0l0.4 -0.9l0.3 -0.9l0.4 -1.0l0.3 -0.9l0.4 -0.9l0.4 -1.0l0.3 -0.9l0.4 -0.9l0.3 -1.0l0.4 -0.9l0.3 -0.9l0.4 -1.0l0.3 -0.9l0.4 -0.9l0.3 -1.0l0.4 -0.9l0.3 -1.0l0.4 -0.9l0.3 -0.9l0.4 -1.0l0.3 -0.9l0.4 -1.0l0.3 -0.9l0.4 -0.9l0.3 -1.0l0.4 -0.9l0.3 -0.9l0.4 -1.0l0.3 -0.9l0.3 -1.0l0.4 -0.9l0.3 -0.9l0.4 -1.0l0.3 -0.9l0.4 -1.0l0.3 -0.9l0.3 -1.0l0.4 -0.9l0.3 -0.9l0.4 -1.0l0.3 -0.9l0.3 -1.0l0.4 -0.9l0.3 -0.9l0.3 -1.0l0.4 -0.9l0.3 -1.0l0.3 -0.9l0.4 -1.0l0.3 -0.9l0.3 -1.0l0.4 -0.9l0.3 -0.9l0.3 -1.0l0.4 -0.9l0.3 -1.0l0.3 -0.9l0.4 -1.0l0.3 -0.9l0.3 -1.0l0.3 -0.9l0.4 -0.9l0.3 -1.0l0.3 -0.9l0.3 -1.0l0.4 -0.9l0.3 -1.0l0.3 -0.9l0.3 -1.0l0.4 -0.9l0.3 -1.0l0.3 -0.9l0.3 -1.0l0.4 -0.9l0.3 -1.0l0.3 -0.9l0.3 -1.0l0.3 -0.9l0.4 -0.9l0.3 -1.0l0.3 -0.9l0.3 -1.0l0.3 -0.9l0.4 -1.0l0.3 -0.9l0.3 -1.0l0.3 -0.9l0.3 -1.0l0.3 -0.9l0.3 -1.0l0.4 -0.9l0.3 -1.0l0.3 -0.9l0.3 -1.0l0.3 -0.9l0.3 -1.0l0.3 -0.9l0.3 -1.0l0.4 -0.9l0.3 -1.0l0.3 -1.0l0.3 -0.9l0.3 -1.0l0.3 -0.9l0.3 -1.0l0.3 -0.9l0.3 -1.0l0.3 -0.9l0.3 -1.0l0.3 -0.9l0.4 -1.0l0.3 -0.9l0.3 -1.0l0.3 -0.9l0.3 -1.0l0.3 -0.9l0.3 -1.0l0.3 -0.9l0.3 -1.0l0.3 -1.0l0.3 -0.9l0.3 -1.0l0.3 -0.9l0.3 -1.0l0.3 -0.9l0.3 -1.0l0.3 -0.9l0.3 -1.0l0.3 -0.9l0.3 -1.0l0.3 -1.0l0.3 -0.9l0.3 -1.0l0.3 -0.9l0.3 -1.0l0.3 -0.9l0.3 -1.0l0.3 -0.9l0.3 -1.0l0.3 -1.0l0.3 -0.9l0.3 -1.0l0.3 -0.9l0.3 -1.0l0.2 -0.9l0.3 -1.0l0.3 -1.0l0.3 -0.9l0.3 -1.0l0.3 -0.9l0.3 -1.0l0.3 -0.9l0.3 -1.0l0.3 -1.0l0.3 -0.9l0.3 -1.0l0.3 -0.9l0.2 -1.0l0.3 -0.9l0.3 -1.0l0.3 -1.0l0.3 -0.9l0.3 -1.0l0.3 -0.9l0.3 -1.0l0.3 -1.0l0.2 -0.9l0.3 -1.0l0.3 -0.9l0.3 -1.0l0.3 -0.9l0.3 -1.0l0.3 -1.0l0.3 -0.9l0.2 -1.0l0.3 -0.9l0.3 -1.0l0.3 -1.0l0.3 -0.9l0.3 -1.0l0.3 -0.9l0.2 -1.0l0.3 -1.0l0.3 -0.9l0.3 -1.0l0.3 -0.9l0.3 -1.0l0.2 -1.0l0.3 -0.9l0.3 -1.0l0.3 -0.9l0.3 -1.0l0.3 -1.0l0.2 -0.9l0.3 -1.0l0.3 -0.9l0.3 -1.0l0.3 -1.0l0.2 -0.9l0.3 -1.0l0.3 -0.9l0.3 -1.0l0.3 -1.0l0.2 -0.9l0.3 -1.0l0.3 -0.9l0.3 -1.0l0.3 -1.0l0.2 -0.9l0.3 -1.0l0.3 -1.0l0.3 -0.9l0.2 -1.0l0.3 -0.9l0.3 -1.0l0.3 -1.0l0.3 -0.9l0.2 -1.0l0.3 -0.9l0.3 -1.0l0.3 -1.0l0.2 -0.9l0.3 -1.0l0.3 -1.0l0.3 -0.9l0.2 -1.0l0.3 -0.9l0.3 -1.0l0.3 -1.0l0.2 -0.9l0.3 -1.0l0.3 -1.0l0.3 -0.9l0.2 -1.0l0.3 -0.9l0.3 -1.0l0.3 -1.0l0.2 -0.9l0.3 -1.0l0.3 -1.0l0.2 -0.9l0.3 -1.0l0.3 -0.9l0.3 -1.0l0.2 -1.0l0.3 -0.9l0.3 -1.0l0.2 -1.0l0.3 -0.9l0.3 -1.0l0.3 -1.0l0.2 -0.9l0.3 -1.0l0.3 -0.9l0.2 -1.0l0.3 -1.0l0.3 -0.9l0.3 -1.0l0.2 -1.0l0.3 -0.9l0.3 -1.0l0.2 -1.0l0.3 -0.9l0.3 -1.0l0.2 -0.9l0.3 -1.0l0.3 -1.0l0.2 -0.9l0.3 -1.0l0.3 -1.0l0.3 -0.9l0.2 -1.0l0.3 -1.0l0.3 -0.9l0.2 -1.0l0.3 -1.0l0.3 -0.9l0.2 -1.0l0.3 -0.9l0.3 -1.0l0.2 -1.0l0.3 -0.9l0.3 -1.0l0.2 -1.0l0.3 -0.9l0.3 -1.0l0.2 -1.0l0.3 -0.9l0.3 -1.0l0.2 -1.0l0.3 -0.9l0.3 -1.0l0.2 -1.0l0.3 -0.9l0.3 -1.0l0.2 -0.9l0.3 -1.0l0.3 -1.0l0.2 -0.9l0.3 -1.0l0.3 -1.0l0.2 -0.9l0.3 -1.0l0.2 -1.0l0.3 -0.9l0.3 -1.0l0.2 -1.0l0.3 -0.9l0.3 -1.0l0.2 -1.0l0.3 -0.9l0.3 -1.0l0.2 -1.0l0.3 -0.9l0.2 -1.0l0.3 -1.0l0.3 -0.9l0.2 -1.0l0.3 -1.0l0.3 -0.9l0.2 -1.0l0.3 -0.9l0.3 -1.0l0.2 -1.0l0.3 -0.9l0.2 -1.0l0.3 -1.0l0.3 -0.9l0.2 -1.0l0.3 -1.0l0.3 -0.9l0.2 -1.0l0.3 -1.0l0.2 -0.9l0.3 -1.0l0.3 -1.0l0.2 -0.9l0.3 -1.0l0.3 -1.0l0.2 -0.9l0.3 -1.0l0.2 -1.0l0.3 -0.9l0.3 -1.0l0.2 -1.0l0.3 -0.9l0.2 -1.0l0.3 -1.0l0.3 -0.9l0.2 -1.0l0.3 -1.0l0.2 -0.9l0.3 -1.0l0.3 -1.0l0.2 -0.9l0.3 -1.0l0.2 -1.0l0.3 -0.9l0.3 -1.0l0.2 -1.0l0.3 -0.9l0.2 -1.0l0.3 -1.0l0.3 -0.9l0.2 -1.0l0.3 -1.0l0.3 -0.9l0.2 -1.0l0.3 -1.0l0.2 -0.9l0.3 -1.0l0.2 -1.0l0.3 -0.9l0.3 -1.0l0.2 -1.0l0.3 -0.9l0.2 -1.0l0.3 -1.0l0.3 -0.9l0.2 -1.0l0.3 -1.0l0.2 -0.9l0.3 -1.0l0.3 -1.0l0.2 -0.9l0.3 -1.0l0.2 -1.0l0.3 -0.9l0.3 -1.0l0.2 -1.0l0.3 -0.9l0.2 -1.0l0.3 -1.0l0.3 -0.9l0.2 -1.0l0.3 -1.0l0.2 -0.9l0.3 -1.0l0.2 -1.0l0.3 -0.9l0.3 -1.0l0.2 -1.0l0.3 -0.9l0.2 -1.0l0.3 -1.0l0.3 -0.9l0.2 -1.0l0.3 -1.0l0.2 -0.9l0.3 -1.0l0.2 -1.0l0.3 -0.9l0.3 -1.0l0.2 -1.0l0.3 -0.9l0.2 -1.0l0.3 -1.0l0.3 -0.9l0.2 -1.0l0.3 -1.0l0.2 -0.9l0.3 -1.0l0.2 -1.0l0.3 -0.9l0.3 -1.0l0.2 -1.0l0.3 -0.9l0.2 -1.0l0.3 -1.0l0.3 -0.9l0.2 -1.0l0.3 -1.0l0.2 -0.9l0.3 -1.0l0.2 -1.0l0.3 -0.9l0.3 -1.0l0.2 -1.0l0.3 -0.9l0.2 -1.0l0.3 -1.0l0.3 -0.9l0.2 -1.0l0.3 -1.0l0.2 -0.9l0.3 -1.0l0.2 -1.0l0.3 -0.9l0.3 -1.0l0.2 -1.0l0.3 -0.9l0.2 -1.0l0.3 -1.0l0.2 -0.9l0.3 -1.0l0.3 -1.0l0.2 -0.9l0.3 -1.0l0.2 -1.0l0.3 -0.9l0.3 -1.0l0.2 -1.0l0.3 -0.9l0.2 -1.0l0.3 -1.0l0.2 -0.9l0.3 -1.0l0.3 -1.0l0.2 -0.9l0.3 -1.0l0.2 -1.0l0.3 -0.9l0.3 -1.0l0.2 -1.0l0.3 -1.0l0.2 -0.9l0.3 -1.0l0.3 -1.0l0.2 -0.9l0.3 -1.0l0.2 -1.0l0.3 -0.9l0.2 -1.0l0.3 -1.0l0.3 -0.9l0.2 -1.0l0.3 -1.0l0.2 -0.9l0.3 -1.0l0.3 -1.0l0.2 -0.9l0.3 -1.0l0.2 -1.0l0.3 -0.9l0.3 -1.0l0.2 -1.0l0.3 -0.9l0.2 -1.0l0.3 -1.0l0.2 -0.9l0.3 -1.0l0.3 -1.0l0.2 -0.9l0.3 -1.0l0.2 -1.0l0.3 -0.9l0.3 -1.0l0.2 -1.0l0.3 -0.9l0.2 -1.0l0.3 -1.0l0.3 -0.9l0.2 -1.0l0.3 -1.0l0.2 -0.9l0.3 -1.0l0.3 -1.0l0.2 -0.9l0.3 -1.0l0.2 -1.0l0.3 -0.9l0.3 -1.0l0.2 -1.0l0.3 -0.9l0.2 -1.0l0.3 -0.9l0.3 -1.0l0.2 -1.0l0.3 -0.9l0.2 -1.0l0.3 -1.0l0.3 -0.9l0.2 -1.0l0.3 -1.0l0.3 -0.9l0.2 -1.0l0.3 -1.0l0.2 -0.9l0.3 -1.0" fill="none" stroke="#00f" stroke-width="5.8" stroke-dasharray="5.2 1.9" stroke-linejoin="round"/>
<path d="M292.0 1226.5a5.4 5.4 0 1 0 10.8 0a5.4 5.4 0 1 0 -10.8 0M294.1 1226.5a5.4 5.4 0 1 0 10.8 0a5.4 5.4 0 1 0 -10.8 0M297.2 1226.5a5.4 5.4 0 1 0 10.8 0a5.4 5.4 0 1 0 -10.8 0M301.5 1226.5a5.4 5.4 0 1 0 10.8 0a5.4 5.4 0 1 0 -10.8 0M307.9 1226.5a5.4 5.4 0 1 0 10.8 0a5.4 5.4 0 1 0 -10.8 0M315.7 1226.5a5.4 5.4 0 1 0 10.8 0a5.4 5.4 0 1 0 -10.8 0M324.9 1226.5a5.4 5.4 0 1 0 10.8 0a5.4 5.4 0 1 0 -10.8 0M335.9 1226.5a5.4 5.4 0 1 0 10.8 0a5.4 5.4 0 1 0 -10.8 0M348.6 1226.5a5.4 5.4 0 1 0 10.8 0a5.4 5.4 0 1 0 -10.8 0M361.2 1226.5a5.4 5.4 0 1 0 10.8 0a5.4 5.4 0 1 0 -10.8 0M373.8 1226.6a5.4 5.4 0 1 0 10.8 0a5.4 5.4 0 1 0 -10.8 0M386.5 1226.6a5.4 5.4 0 1 0 10.8 0a5.4 5.4 0 1 0 -10.8 0M399.1 1226.6a5.4 5.4 0 1 0 10.8 0a5.4 5.4 0 1 0 -10.8 0M411.7 1226.6a5.4 5.4 0 1 0 10.8 0a5.4 5.4 0 1 0 -10.8 0M424.3 1226.6a5.4 5.4 0 1 0 10.8 0a5.4 5.4 0 1 0 -10.8 0M436.9 1226.6a5.4 5.4 0 1 0 10.8 0a5.4 5.4 0 1 0 -10.8 0M449.6 1226.5a5.4 5.4 0 1 0 10.8 0a5.4 5.4 0 1 0 -10.8 0M462.2 1226.5a5.4 5.4 0 1 0 10.8 0a5.4 5.4 0 1 0 -10.8 0M474.8 1226.5a5.4 5.4 0 1 0 10.8 0a5.4 5.4 0 1 0 -10.8 0M487.4 1226.5a5.4 5.4 0 1 0 10.8 0a5.4 5.4 0 1 0 -10.8 0M500.0 1226.5a5.4 5.4 0 1 0 10.8 0a5.4 5.4 0 1 0 -10.8 0M512.7 1226.5a5.4 5.4 0 1 0 10.8 0a5.4 5.4 0 1 0 -10.8 0M525.3 1226.4a5.4 5.4 0 1 0 10.8 0a5.4 5.4 0 1 0 -10.8 0M537.9 1226.4a5.4 5.4 0 1 0 10.8 0a5.4 5.4 0 1 0 -10.8 0M550.5 1226.4a5.4 5.4 0 1 0 10.8 0a5.4 5.4 0 1 0 -10.8 0M563.1 1226.4a5.4 5.4 0 1 0 10.8 0a5.4 5.4 0 1 0 -10.8 0M575.8 1226.3a5.4 5.4 0 1 0 10.8 0a5.4 5.4 0 1 0 -10.8 0M588.4 1226.3a5.4 5.4 0 1 0 10.8 0a5.4 5.4 0 1 0 -10.8 0M601.0 1226.2a5.4 5.4 0 1 0 10.8 0a5.4 5.4 0 1 0 -10.8 0M613.6 1226.2a5.4 5.4 0 1 0 10.8 0a5.4 5.4 0 1 0 -10.8 0M626.2 1226.1a5.4 5.4 0 1 0 10.8 0a5.4 5.4 0 1 0 -10.8 0M638.9 1226.0a5.4 5.4 0 1 0 10.8 0a5.4 5.4 0 1 0 -10.8 0M651.5 1226.0a5.4 5.4 0 1 0 10.8 0a5.4 5.4 0 1 0 -10.8 0M664.1 1225.9a5.4 5.4 0 1 0 10.8 0a5.4 5.4 0 1 0 -10.8 0M676.7 1225.8a5.4 5.4 0 1 0 10.8 0a5.4 5.4 0 1 0 -10.8 0M689.3 1225.7a5.4 5.4 0 1 0 10.8 0a5.4 5.4 0 1 0 -10.8 0M702.0 1225.7a5.4 5.4 0 1 0 10.8 0a5.4 5.4 0 1 0 -10.8 0M714.6 1225.6a5.4 5.4 0 1 0 10.8 0a5.4 5.4 0 1 0 -10.8 0M727.2 1225.5a5.4 5.4 0 1 0 10.8 0a5.4 5.4 0 1 0 -10.8 0M739.8 1225.3a5.4 5.4 0 1 0 10.8 0a5.4 5.4 0 1 0 -10.8 0M752.4 1225.2a5.4 5.4 0 1 0 10.8 0a5.4 5.4 0 1 0 -10.8 0M765.1 1225.1a5.4 5.4 0 1 0 10.8 0a5.4 5.4 0 1 0 -10.8 0M777.7 1225.0a5.4 5.4 0 1 0 10.8 0a5.4 5.4 0 1 0 -10.8 0M790.3 1224.9a5.4 5.4 0 1 0 10.8 0a5.4 5.4 0 1 0 -10.8 0M802.9 1224.7a5.4 5.4 0 1 0 10.8 0a5.4 5.4 0 1 0 -10.8 0M815.5 1224.6a5.4 5.4 0 1 0 10.8 0a5.4 5.4 0 1 0 -10.8 0M828.2 1224.4a5.4 5.4 0 1 0 10.8 0a5.4 5.4 0 1 0 -10.8 0M840.8 1224.2a5.4 5.4 0 1 0 10.8 0a5.4 5.4 0 1 0 -10.8 0M853.4 1224.1a5.4 5.4 0 1 0 10.8 0a5.4 5.4 0 1 0 -10.8 0M866.0 1223.9a5.4 5.4 0 1 0 10.8 0a5.4 5.4 0 1 0 -10.8 0M878.6 1223.7a5.4 5.4 0 1 0 10.8 0a5.4 5.4 0 1 0 -10.8 0M891.3 1223.5a5.4 5.4 0 1 0 10.8 0a5.4 5.4 0 1 0 -10.8 0M903.9 1223.3a5.4 5.4 0 1 0 10.8 0a5.4 5.4 0 1 0 -10.8 0M916.5 1223.1a5.4 5.4 0 1 0 10.8 0a5.4 5.4 0 1 0 -10.8 0M929.1 1223.0a5.4 5.4 0 1 0 10.8 0a5.4 5.4 0 1 0 -10.8 0M941.7 1222.8a5.4 5.4 0 1 0 10.8 0a5.4 5.4 0 1 0 -10.8 0M954.4 1222.7a5.4 5.4 0 1 0 10.8 0a5.4 5.4 0 1 0 -10.8 0M967.0 1222.6a5.4 5.4 0 1 0 10.8 0a5.4 5.4 0 1 0 -10.8 0M979.6 1222.6a5.4 5.4 0 1 0 10.8 0a5.4 5.4 0 1 0 -10.8 0M992.2 1222.6a5.4 5.4 0 1 0 10.8 0a5.4 5.4 0 1 0 -10.8 0M1004.8 1222.7a5.4 5.4 0 1 0 10.8 0a5.4 5.4 0 1 0 -10.8 0M1017.5 1222.8a5.4 5.4 0 1 0 10.8 0a5.4 5.4 0 1 0 -10.8 0M1030.1 1223.1a5.4 5.4 0 1 0 10.8 0a5.4 5.4 0 1 0 -10.8 0M1042.7 1223.3a5.4 5.4 0 1 0 10.8 0a5.4 5.4 0 1 0 -10.8 0M1055.3 1223.1a5.4 5.4 0 1 0 10.8 0a5.4 5.4 0 1 0 -10.8 0M1067.9 1221.9a5.4 5.4 0 1 0 10.8 0a5.4 5.4 0 1 0 -10.8 0M1080.6 1219.9a5.4 5.4 0 1 0 10.8 0a5.4 5.4 0 1 0 -10.8 0M1093.2 1217.1a5.4 5.4 0 1 0 10.8 0a5.4 5.4 0 1 0 -10.8 0M1105.8 1213.5a5.4 5.4 0 1 0 10.8 0a5.4 5.4 0 1 0 -10.8 0M1118.4 1209.4a5.4 5.4 0 1 0 10.8 0a5.4 5.4 0 1 0 -10.8 0M1131.0 1204.7a5.4 5.4 0 1 0 10.8 0a5.4 5.4 0 1 0 -10.8 0M1143.7 1199.7a5.4 5.4 0 1 0 10.8 0a5.4 5.4 0 1 0 -10.8 0M1156.3 1194.3a5.4 5.4 0 1 0 10.8 0a5.4 5.4 0 1 0 -10.8 0M1168.9 1188.6a5.4 5.4 0 1 0 10.8 0a5.4 5.4 0 1 0 -10.8 0M1181.5 1182.5a5.4 5.4 0 1 0 10.8 0a5.4 5.4 0 1 0 -10.8 0M1194.1 1175.9a5.4 5.4 0 1 0 10.8 0a5.4 5.4 0 1 0 -10.8 0M1206.8 1168.7a5.4 5.4 0 1 0 10.8 0a5.4 5.4 0 1 0 -10.8 0M1219.4 1160.9a5.4 5.4 0 1 0 10.8 0a5.4 5.4 0 1 0 -10.8 0M1232.0 1152.5a5.4 5.4 0 1 0 10.8 0a5.4 5.4 0 1 0 -10.8 0M1244.6 1143.4a5.4 5.4 0 1 0 10.8 0a5.4 5.4 0 1 0 -10.8 0M1257.2 1133.5a5.4 5.4 0 1 0 10.8 0a5.4 5.4 0 1 0 -10.8 0M1269.9 1122.7a5.4 5.4 0 1 0 10.8 0a5.4 5.4 0 1 0 -10.8 0M1282.5 1111.0a5.4 5.4 0 1 0 10.8 0a5.4 5.4 0 1 0 -10.8 0M1295.1 1098.3a5.4 5.4 0 1 0 10.8 0a5.4 5.4 0 1 0 -10.8 0M1307.7 1084.7a5.4 5.4 0 1 0 10.8 0a5.4 5.4 0 1 0 -10.8 0M1320.3 1069.9a5.4 5.4 0 1 0 10.8 0a5.4 5.4 0 1 0 -10.8 0M1333.0 1053.9a5.4 5.4 0 1 0 10.8 0a5.4 5.4 0 1 0 -10.8 0M1345.6 1036.7a5.4 5.4 0 1 0 10.8 0a5.4 5.4 0 1 0 -10.8 0M1358.2 1018.1a5.4 5.4 0 1 0 10.8 0a5.4 5.4 0 1 0 -10.8 0M1370.8 998.0a5.4 5.4 0 1 0 10.8 0a5.4 5.4 0 1 0 -10.8 0M1383.4 976.4a5.4 5.4 0 1 0 10.8 0a5.4 5.4 0 1 0 -10.8 0M1396.1 953.2a5.4 5.4 0 1 0 10.8 0a5.4 5.4 0 1 0 -10.8 0M1408.7 928.2a5.4 5.4 0 1 0 10.8 0a5.4 5.4 0 1 0 -10.8 0M1421.3 901.4a5.4 5.4 0 1 0 10.8 0a5.4 5.4 0 1 0 -10.8 0M1433.9 872.7a5.4 5.4 0 1 0 10.8 0a5.4 5.4 0 1 0 -10.8 0M1446.5 842.0a5.4 5.4 0 1 0 10.8 0a5.4 5.4 0 1 0 -10.8 0M1459.2 809.2a5.4 5.4 0 1 0 10.8 0a5.4 5.4 0 1 0 -10.8 0M1471.8 774.2a5.4 5.4 0 1 0 10.8 0a5.4 5.4 0 1 0 -10.8 0M1484.4 736.9a5.4 5.4 0 1 0 10.8 0a5.4 5.4 0 1 0 -10.8 0M1497.0 697.3a5.4 5.4 0 1 0 10.8 0a5.4 5.4 0 1 0 -10.8 0M1509.6 655.7a5.4 5.4 0 1 0 10.8 0a5.4 5.4 0 1 0 -10.8 0M1522.3 612.3a5.4 5.4 0 1 0 10.8 0a5.4 5.4 0 1 0 -10.8 0M1534.9 567.6a5.4 5.4 0 1 0 10.8 0a5.4 5.4 0 1 0 -10.8 0M1547.5 521.7a5.4 5.4 0 1 0 10.8 0a5.4 5.4 0 1 0 -10.8 0M1560.1 475.0a5.4 5.4 0 1 0 10.8 0a5.4 5.4 0 1 0 -10.8 0M1571.6 432.2a5.4 5.4 0 1 0 10.8 0a5.4 5.4 0 1 0 -10.8 0M1580.8 397.7a5.4 5.4 0 1 0 10.8 0a5.4 5.4 0 1 0 -10.8 0M1588.6 368.5a5.4 5.4 0 1 0 10.8 0a5.4 5.4 0 1 0 -10.8 0M1595.0 344.6a5.4 5.4 0 1 0 10.8 0a5.4 5.4 0 1 0 -10.8 0M1599.3 328.7a5.4 5.4 0 1 0 10.8 0a5.4 5.4 0 1 0 -10.8 0M1602.4 317.2a5.4 5.4 0 1 0 10.8 0a5.4 5.4 0 1 0 -10.8 0M1604.5 309.4a5.4 5.4 0 1 0 10.8 0a5.4 5.4 0 1 0 -10.8 0" fill="#00f"/>
<path d="M292.0 1116.9a5.4 5.4 0 1 0 10.8 0a5.4 5.4 0 1 0 -10.8 0M294.1 1116.5a5.4 5.4 0 1 0 10.8 0a5.4 5.4 0 1 0 -10.8 0M297.2 1115.8a5.4 5.4 0 1 0 10.8 0a5.4 5.4 0 1 0 -10.8 0M301.5 1114.9a5.4 5.4 0 1 0 10.8 0a5.4 5.4 0 1 0 -10.8 0M307.9 1113.5a5.4 5.4 0 1 0 10.8 0a5.4 5.4 0 1 0 -10.8 0M315.7 1111.8a5.4 5.4 0 1 0 10.8 0a5.4 5.4 0 1 0 -10.8 0M324.9 1109.8a5.4 5.4 0 1 0 10.8 0a5.4 5.4 0 1 0 -10.8 0M335.9 1107.4a5.4 5.4 0 1 0 10.8 0a5.4 5.4 0 1 0 -10.8 0M348.6 1104.5a5.4 5.4 0 1 0 10.8 0a5.4 5.4 0 1 0 -10.8 0M361.2 1101.7a5.4 5.4 0 1 0 10.8 0a5.4 5.4 0 1 0 -10.8 0M373.8 1098.7a5.4 5.4 0 1 0 10.8 0a5.4 5.4 0 1 0 -10.8 0M386.5 1095.7a5.4 5.4 0 1 0 10.8 0a5.4 5.4 0 1 0 -10.8 0M399.1 1092.6a5.4 5.4 0 1 0 10.8 0a5.4 5.4 0 1 0 -10.8 0M411.7 1089.5a5.4 5.4 0 1 0 10.8 0a5.4 5.4 0 1 0 -10.8 0M424.3 1086.3a5.4 5.4 0 1 0 10.8 0a5.4 5.4 0 1 0 -10.8 0M436.9 1083.0a5.4 5.4 0 1 0 10.8 0a5.4 5.4 0 1 0 -10.8 0M449.6 1079.6a5.4 5.4 0 1 0 10.8 0a5.4 5.4 0 1 0 -10.8 0M462.2 1076.2a5.4 5.4 0 1 0 10.8 0a5.4 5.4 0 1 0 -10.8 0M474.8 1072.6a5.4 5.4 0 1 0 10.8 0a5.4 5.4 0 1 0 -10.8 0M487.4 1069.0a5.4 5.4 0 1 0 10.8 0a5.4 5.4 0 1 0 -10.8 0M500.0 1065.2a5.4 5.4 0 1 0 10.8 0a5.4 5.4 0 1 0 -10.8 0M512.7 1061.4a5.4 5.4 0 1 0 10.8 0a5.4 5.4 0 1 0 -10.8 0M525.3 1057.4a5.4 5.4 0 1 0 10.8 0a5.4 5.4 0 1 0 -10.8 0M537.9 1053.3a5.4 5.4 0 1 0 10.8 0a5.4 5.4 0 1 0 -10.8 0M550.5 1049.1a5.4 5.4 0 1 0 10.8 0a5.4 5.4 0 1 0 -10.8 0M563.1 1044.8a5.4 5.4 0 1 0 10.8 0a5.4 5.4 0 1 0 -10.8 0M575.8 1040.4a5.4 5.4 0 1 0 10.8 0a5.4 5.4 0 1 0 -10.8 0M588.4 1035.8a5.4 5.4 0 1 0 10.8 0a5.4 5.4 0 1 0 -10.8 0M601.0 1031.1a5.4 5.4 0 1 0 10.8 0a5.4 5.4 0 1 0 -10.8 0M613.6 1026.3a5.4 5.4 0 1 0 10.8 0a5.4 5.4 0 1 0 -10.8 0M626.2 1021.3a5.4 5.4 0 1 0 10.8 0a5.4 5.4 0 1 0 -10.8 0M638.9 1016.2a5.4 5.4 0 1 0 10.8 0a5.4 5.4 0 1 0 -10.8 0M651.5 1010.9a5.4 5.4 0 1 0 10.8 0a5.4 5.4 0 1 0 -10.8 0M664.1 1005.4a5.4 5.4 0 1 0 10.8 0a5.4 5.4 0 1 0 -10.8 0M676.7 999.9a5.4 5.4 0 1 0 10.8 0a5.4 5.4 0 1 0 -10.8 0M689.3 994.1a5.4 5.4 0 1 0 10.8 0a5.4 5.4 0 1 0 -10.8 0M702.0 988.3a5.4 5.4 0 1 0 10.8 0a5.4 5.4 0 1 0 -10.8 0M714.6 982.3a5.4 5.4 0 1 0 10.8 0a5.4 5.4 0 1 0 -10.8 0M727.2 976.1a5.4 5.4 0 1 0 10.8 0a5.4 5.4 0 1 0 -10.8 0M739.8 969.8a5.4 5.4 0 1 0 10.8 0a5.4 5.4 0 1 0 -10.8 0M752.4 963.4a5.4 5.4 0 1 0 10.8 0a5.4 5.4 0 1 0 -10.8 0M765.1 956.8a5.4 5.4 0 1 0 10.8 0a5.4 5.4 0 1 0 -10.8 0M777.7 950.1a5.4 5.4 0 1 0 10.8 0a5.4 5.4 0 1 0 -10.8 0M790.3 943.3a5.4 5.4 0 1 0 10.8 0a5.4 5.4 0 1 0 -10.8 0M802.9 936.3a5.4 5.4 0 1 0 10.8 0a5.4 5.4 0 1 0 -10.8 0M815.5 929.2a5.4 5.4 0 1 0 10.8 0a5.4 5.4 0 1 0 -10.8 0M828.2 921.9a5.4 5.4 0 1 0 10.8 0a5.4 5.4 0 1 0 -10.8 0M840.8 914.6a5.4 5.4 0 1 0 10.8 0a5.4 5.4 0 1 0 -10.8 0M853.4 907.0a5.4 5.4 0 1 0 10.8 0a5.4 5.4 0 1 0 -10.8 0M866.0 899.4a5.4 5.4 0 1 0 10.8 0a5.4 5.4 0 1 0 -10.8 0M878.6 891.6a5.4 5.4 0 1 0 10.8 0a5.4 5.4 0 1 0 -10.8 0M891.3 883.7a5.4 5.4 0 1 0 10.8 0a5.4 5.4 0 1 0 -10.8 0M903.9 875.7a5.4 5.4 0 1 0 10.8 0a5.4 5.4 0 1 0 -10.8 0M916.5 867.5a5.4 5.4 0 1 0 10.8 0a5.4 5.4 0 1 0 -10.8 0M929.1 859.2a5.4 5.4 0 1 0 10.8 0a5.4 5.4 0 1 0 -10.8 0M941.7 850.8a5.4 5.4 0 1 0 10.8 0a5.4 5.4 0 1 0 -10.8 0M954.4 842.2a5.4 5.4 0 1 0 10.8 0a5.4 5.4 0 1 0 -10.8 0M967.0 833.5a5.4 5.4 0 1 0 10.8 0a5.4 5.4 0 1 0 -10.8 0M979.6 824.7a5.4 5.4 0 1 0 10.8 0a5.4 5.4 0 1 0 -10.8 0M992.2 815.8a5.4 5.4 0 1 0 10.8 0a5.4 5.4 0 1 0 -10.8 0M1004.8 806.8a5.4 5.4 0 1 0 10.8 0a5.4 5.4 0 1 0 -10.8 0M1017.5 797.7a5.4 5.4 0 1 0 10.8 0a5.4 5.4 0 1 0 -10.8 0M1030.1 788.6a5.4 5.4 0 1 0 10.8 0a5.4 5.4 0 1 0 -10.8 0M1042.7 779.4a5.4 5.4 0 1 0 10.8 0a5.4 5.4 0 1 0 -10.8 0M1055.3 770.1a5.4 5.4 0 1 0 10.8 0a5.4 5.4 0 1 0 -10.8 0M1067.9 760.8a5.4 5.4 0 1 0 10.8 0a5.4 5.4 0 1 0 -10.8 0M1080.6 751.5a5.4 5.4 0 1 0 10.8 0a5.4 5.4 0 1 0 -10.8 0M1093.2 742.2a5.4 5.4 0 1 0 10.8 0a5.4 5.4 0 1 0 -10.8 0M1105.8 732.8a5.4 5.4 0 1 0 10.8 0a5.4 5.4 0 1 0 -10.8 0M1118.4 723.5a5.4 5.4 0 1 0 10.8 0a5.4 5.4 0 1 0 -10.8 0M1131.0 714.3a5.4 5.4 0 1 0 10.8 0a5.4 5.4 0 1 0 -10.8 0M1143.7 705.1a5.4 5.4 0 1 0 10.8 0a5.4 5.4 0 1 0 -10.8 0M1156.3 695.9a5.4 5.4 0 1 0 10.8 0a5.4 5.4 0 1 0 -10.8 0M1168.9 686.8a5.4 5.4 0 1 0 10.8 0a5.4 5.4 0 1 0 -10.8 0M1181.5 677.9a5.4 5.4 0 1 0 10.8 0a5.4 5.4 0 1 0 -10.8 0M1194.1 669.0a5.4 5.4 0 1 0 10.8 0a5.4 5.4 0 1 0 -10.8 0M1206.8 660.2a5.4 5.4 0 1 0 10.8 0a5.4 5.4 0 1 0 -10.8 0M1219.4 651.5a5.4 5.4 0 1 0 10.8 0a5.4 5.4 0 1 0 -10.8 0M1232.0 643.0a5.4 5.4 0 1 0 10.8 0a5.4 5.4 0 1 0 -10.8 0M1244.6 634.7a5.4 5.4 0 1 0 10.8 0a5.4 5.4 0 1 0 -10.8 0M1257.2 626.5a5.4 5.4 0 1 0 10.8 0a5.4 5.4 0 1 0 -10.8 0M1269.9 618.5a5.4 5.4 0 1 0 10.8 0a5.4 5.4 0 1 0 -10.8 0M1282.5 610.7a5.4 5.4 0 1 0 10.8 0a5.4 5.4 0 1 0 -10.8 0M1295.1 603.1a5.4 5.4 0 1 0 10.8 0a5.4 5.4 0 1 0 -10.8 0M1307.7 595.7a5.4 5.4 0 1 0 10.8 0a5.4 5.4 0 1 0 -10.8 0M1320.3 588.5a5.4 5.4 0 1 0 10.8 0a5.4 5.4 0 1 0 -10.8 0M1333.0 581.6a5.4 5.4 0 1 0 10.8 0a5.4 5.4 0 1 0 -10.8 0M1345.6 574.9a5.4 5.4 0 1 0 10.8 0a5.4 5.4 0 1 0 -10.8 0M1358.2 568.4a5.4 5.4 0 1 0 10.8 0a5.4 5.4 0 1 0 -10.8 0M1370.8 562.2a5.4 5.4 0 1 0 10.8 0a5.4 5.4 0 1 0 -10.8 0M1383.4 556.3a5.4 5.4 0 1 0 10.8 0a5.4 5.4 0 1 0 -10.8 0M1396.1 550.7a5.4 5.4 0 1 0 10.8 0a5.4 5.4 0 1 0 -10.8 0M1408.7 545.3a5.4 5.4 0 1 0 10.8 0a5.4 5.4 0 1 0 -10.8 0M1421.3 540.2a5.4 5.4 0 1 0 10.8 0a5.4 5.4 0 1 0 -10.8 0M1433.9 535.3a5.4 5.4 0 1 0 10.8 0a5.4 5.4 0 1 0 -10.8 0M1446.5 530.8a5.4 5.4 0 1 0 10.8 0a5.4 5.4 0 1 0 -10.8 0M1459.2 526.6a5.4 5.4 0 1 0 10.8 0a5.4 5.4 0 1 0 -10.8 0M1471.8 522.7a5.4 5.4 0 1 0 10.8 0a5.4 5.4 0 1 0 -10.8 0M1484.4 519.1a5.4 5.4 0 1 0 10.8 0a5.4 5.4 0 1 0 -10.8 0M1497.0 515.7a5.4 5.4 0 1 0 10.8 0a5.4 5.4 0 1 0 -10.8 0M1509.6 512.7a5.4 5.4 0 1 0 10.8 0a5.4 5.4 0 1 0 -10.8 0M1522.3 509.9a5.4 5.4 0 1 0 10.8 0a5.4 5.4 0 1 0 -10.8 0M1534.9 507.3a5.4 5.4 0 1 0 10.8 0a5.4 5.4 0 1 0 -10.8 0M1547.5 505.0a5.4 5.4 0 1 0 10.8 0a5.4 5.4 0 1 0 -10.8 0M1560.1 502.9a5.4 5.4 0 1 0 10.8 0a5.4 5.4 0 1 0 -10.8 0M1571.6 501.2a5.4 5.4 0 1 0 10.8 0a5.4 5.4 0 1 0 -10.8 0M1580.8 499.9a5.4 5.4 0 1 0 10.8 0a5.4 5.4 0 1 0 -10.8 0M1588.6 498.9a5.4 5.4 0 1 0 10.8 0a5.4 5.4 0 1 0 -10.8 0M1595.0 498.1a5.4 5.4 0 1 0 10.8 0a5.4 5.4 0 1 0 -10.8 0M1599.3 497.7a5.4 5.4 0 1 0 10.8 0a5.4 5.4 0 1 0 -10.8 0M1602.4 497.3a5.4 5.4 0 1 0 10.8 0a5.4 5.4 0 1 0 -10.8 0M1604.5 497.2a5.4 5.4 0 1 0 10.8 0a5.4 5.4 0 1 0 -10.8 0" fill="#000"/>
<path d="M297.0 1225.3l1 0.0l1 0.0l1 0.0l1 0.0l1 -0.1l1 0.0l1 0.0l1 0.0l1 0.0l1 0.0l1 0.0l1 0.0l1 0.0l1 -0.1l1 0.0l1 0.0l1 0.0l1 0.0l1 0.0l1 0.0l1 0.0l1 0.0l1 -0.1l1 0.0l1 0.0l1 0.0l1 0.0l1 0.0l1 0.0l1 0.0l1 0.0l1 0.0l1 0.0l1 -0.1l1 0.0l1 0.0l1 0.0l1 0.0l1 0.0l1 0.0l1 0.0l1 0.0l1 0.0l1 0.0l1 0.0l1 -0.1l1 0.0l1 0.0l1 0.0l1 0.0l1 0.0l1 0.0l1 0.0l1 0.0l1 0.0l1 0.0l1 0.0l1 0.0l1 0.0l1 -0.1l1 0.0l1 0.0l1 0.0l1 0.0l1 0.0l1 0.0l1 0.0l1 0.0l1 0.0l1 0.0l1 0.0l1 0.0l1 0.0l1 0.0l1 0.0l1 0.0l1 -0.1l1 0.0l1 0.0l1 0.0l1 0.0l1 0.0l1 0.0l1 0.0l1 0.0l1.1 0.0l1 0.0l1 0.0l1 0.0l1 0.0l1 0.0l1 0.0l1 0.0l1 0.0l1 0.0l1 0.0l1 0.0l1 0.0l1 -0.1l1 0.0l1 0.0l1 0.0l1 0.0l1 0.0l1 0.0l1 0.0l1 0.0l1 0.0l1 0.0l1 0.0l1 0.0l1 0.0l1 0.0l1 0.0l1 0.0l1 0.0l1 0.0l1 0.0l1 0.0l1 0.0l1 0.0l1 0.0l1 0.0l1 0.0l1 0.0l1 0.0l1 -0.1l1 0.0l1 0.0l1 0.0l1 0.0l1 0.0l1 0.0l1 0.0l1 0.0l1 0.0l1 0.0l1 0.0l1 0.0l1 0.0l1 0.0l1 0.0l1 0.0l1 0.0l1 0.0l1 0.0l1 0.0l1 0.0l1 0.0l1 0.0l1 0.0l1 0.0l1 0.0l1 0.0l1 0.0l1 0.0l1 0.0l1 0.0l1 0.0l1 0.0l1 -0.1l1 0.0l1 0.0l1 0.0l1 0.0l1 0.0l1 0.0l1 0.0l1 0.0l1 0.0l1 0.0l1 0.0l1 0.0l1 0.0l1 0.0l1 0.0l1 0.0l1 0.0l1 0.0l1 0.0l1 0.0l1 0.0l1 0.0l1 0.0l1 0.0l1 0.0l1 0.0l1 0.0l1 0.0l1 0.0l1 -0.1l1 0.0l1 0.0l1 0.0l1 0.0l1 0.0l1 0.0l1 0.0l1 0.0l1 0.0l1 0.0l1 0.0l1 0.0l1 0.0l1 0.0l1 0.0l1 0.0l1 0.0l1 0.0l1 0.0l1 0.0l1 0.0l1 0.0l1 0.0l1 -0.1l1 0.0l1 0.0l1 0.0l1 0.0l1 0.0l1 0.0l1 0.0l1 0.0l1 0.0l1 0.0l1 0.0l1 0.0l1 0.0l1 0.0l1 0.0l1 0.0l1 0.0l1 -0.1l1 0.0l1 0.0l1 0.0l1 0.0l1 0.0l1 0.0l1 0.0l1 0.0l1 0.0l1 0.0l1 0.0l1 0.0l1 0.0l1 0.0l1 -0.1l1.1 0.0l1 0.0l1 0.0l1 0.0l1 0.0l1 0.0l1 0.0l1 0.0l1 0.0l1 0.0l1 0.0l1 -0.1l1 0.0l1 0.0l1 0.0l1 0.0l1 0.0l1 0.0l1 0.0l1 0.0l1 0.0l1 0.0l1 -0.1l1 0.0l1 0.0l1 0.0l1 0.0l1 0.0l1 0.0l1 0.0l1 0.0l1 0.0l1 -0.1l1 0.0l1 0.0l1 0.0l1 0.0l1 0.0l1 0.0l1 0.0l1 -0.1l1 0.0l1 0.0l1 0.0l1 0.0l1 0.0l1 0.0l1 0.0l1 -0.1l1 0.0l1 0.0l1 0.0l1 0.0l1 0.0l1 0.0l1 0.0l1 -0.1l1 0.0l1 0.0l1 0.0l1 0.0l1 0.0l1 0.0l1 -0.1l1 0.0l1 0.0l1 0.0l1 0.0l1 0.0l1 -0.1l1 0.0l1 0.0l1 0.0l1 0.0l1 0.0l1 -0.1l1 0.0l1 0.0l1 0.0l1 0.0l1 0.0l1 -0.1l1 0.0l1 0.0l1 0.0l1 0.0l1 -0.1l1 0.0l1 0.0l1 0.0l1 0.0l1 0.0l1 -0.1l1 0.0l1 0.0l1 0.0l1 0.0l1 -0.1l1 0.0l1 0.0l1 0.0l1 -0.1l1 0.0l1 0.0l1 0.0l1 0.0l1 -0.1l1 0.0l1 0.0l1 0.0l1 -0.1l1 0.0l1 0.0l1 0.0l1 -0.1l1 0.0l1 0.0l1 0.0l1 0.0l1 -0.1l1 0.0l1 0.0l1 0.0l1 -0.1l1 0.0l1 0.0l1 -0.1l1 0.0l1 0.0l1 0.0l1 -0.1l1 0.0l1 0.0l1 0.0l1 -0.1l1 0.0l1 0.0l1 -0.1l1 0.0l1 0.0l1 0.0l1 -0.1l1 0.0l1 0.0l1 -0.1l1 0.0l1 0.0l1 -0.1l1 0.0l1 0.0l1 0.0l1 -0.1l1 0.0l1 0.0l1 -0.1l1 0.0l1 0.0l1 -0.1l1 0.0l1 0.0l1 -0.1l1 0.0l1 0.0l1 -0.1l1 0.0l1 0.0l1 -0.1l1 0.0l1 -0.1l1 0.0l1 0.0l1 -0.1l1 0.0l1 0.0l1 -0.1l1 0.0l1 0.0l1 -0.1l1 0.0l1 -0.1l1 0.0l1 0.0l1 -0.1l1 0.0l1 -0.1l1 0.0l1 0.0l1 -0.1l1 0.0l1 -0.1l1 0.0l1 0.0l1 -0.1l1 0.0l1 -0.1l1 0.0l1 -0.1l1 0.0l1 0.0l1 -0.1l1 0.0l1 -0.1l1 0.0l1 -0.1l1 0.0l1 -0.1l1 0.0l1 0.0l1 -0.1l1 0.0l1 -0.1l1 0.0l1 -0.1l1 0.0l1 -0.1l1 0.0l1 -0.1l1 0.0l1 -0.1l1 0.0l1 -0.1l1 0.0l1 -0.1l1 0.0l1 -0.1l1 0.0l1 -0.1l1 0.0l1 -0.1l1 0.0l1 -0.1l1 0.0l1 -0.1l1 0.0l1 -0.1l1 0.0l1 -0.1l1 -0.1l1 0.0l1 -0.1l1 0.0l1 -0.1l1 0.0l1 -0.1l1 0.0l1 -0.1l1 -0.1l1 0.0l1 -0.1l1 0.0l1 -0.1l1 -0.1l1 0.0l1 -0.1l1 0.0l1 -0.1l1 -0.1l1 0.0l1 -0.1l1 0.0l1 -0.1l1 -0.1l1 0.0l1 -0.1l1 -0.1l1 0.0l1 -0.1l1 0.0l1 -0.1l1 -0.1l0.9 0.0l1 -0.1l1 -0.1l1 0.0l1 -0.1l1 -0.1l1 0.0l1 -0.1l1 -0.1l1 0.0l1 -0.1l1 -0.1l1 0.0l1 -0.1l1 -0.1l1 -0.1l1 0.0l1 -0.1l1 -0.1l1 0.0l1 -0.1l1 -0.1l1 -0.1l1 0.0l1 -0.1l1 -0.1l1 -0.1l1 0.0l1 -0.1l1 -0.1l1 -0.1l1 0.0l1 -0.1l1 -0.1l1 -0.1l1 0.0l1 -0.1l1 -0.1l1 -0.1l1 -0.1l1 0.0l1 -0.1l1 -0.1l1 -0.1l1 -0.1l1 -0.1l1 0.0l0.9 -0.1l1 -0.1l1 -0.1l1 -0.1l1 -0.1l1 -0.1l1 -0.1l1 -0.1l1 0.0l1 -0.1l1 -0.1l1 -0.1l1 -0.1l1 -0.1l1 -0.1l1 -0.1l1 -0.1l1 -0.1l1 -0.1l1 -0.1l1 -0.1l1 -0.1l1 -0.1l1 -0.1l1 -0.1l1 -0.1l0.9 -0.1l1 -0.1l1 -0.1l1 -0.1l1 -0.1l1 -0.1l1 -0.1l1 -0.1l1 -0.2l1 -0.1l1 -0.1l1 -0.1l1 -0.1l1 -0.1l1 -0.1l1 -0.2l1 -0.1l1 -0.1l0.9 -0.1l1 -0.1l1 -0.2l1 -0.1l1 -0.1l1 -0.1l1 -0.1l1 -0.2l1 -0.1l1 -0.1l1 -0.2l1 -0.1l1 -0.1l0.9 -0.2l1 -0.1l1 -0.1l1 -0.2l1 -0.1l1 -0.1l1 -0.2l1 -0.1l1 -0.2l1 -0.1l1 -0.1l0.9 -0.2l1 -0.1l1 -0.2l1 -0.1l1 -0.2l1 -0.1l1 -0.2l1 -0.1l1 -0.2l0.9 -0.2l1 -0.1l1 -0.2l1 -0.1l1 -0.2l1 -0.2l1 -0.1l1 -0.2l0.9 -0.1l1 -0.2l1 -0.2l1 -0.1l1 -0.2l1 -0.2l1 -0.2l1 -0.1l0.9 -0.2l1 -0.2l1 -0.2l1 -0.2l1 -0.1l1 -0.2l0.9 -0.2l1 -0.2l1 -0.2l1 -0.2l1 -0.2l1 -0.1l0.9 -0.2l1 -0.2l1 -0.2l1 -0.2l1 -0.2l0.9 -0.2l1 -0.2l1 -0.2l1 -0.2l1 -0.2l0.9 -0.2l1 -0.2l1 -0.3l1 -0.2l1 -0.2l0.9 -0.2l1 -0.2l1 -0.2l1 -0.2l0.9 -0.3l1 -0.2l1 -0.2l1 -0.2l0.9 -0.3l1 -0.2l1 -0.2l1 -0.2l0.9 -0.3l1 -0.2l1 -0.3l1 -0.2l0.9 -0.2l1 -0.3l1 -0.2l0.9 -0.3l1 -0.2l1 -0.2l0.9 -0.3l1 -0.2l1 -0.3l0.9 -0.2l1 -0.3l1 -0.3l1 -0.2l0.9 -0.3l1 -0.2l0.9 -0.3l1 -0.3l1 -0.2l0.9 -0.3l1 -0.3l1 -0.2l0.9 -0.3l1 -0.3l1 -0.3l0.9 -0.2l1 -0.3l0.9 -0.3l1 -0.3l1 -0.3l0.9 -0.2l1 -0.3l0.9 -0.3l1 -0.3l0.9 -0.3l1 -0.3l1 -0.3l0.9 -0.3l1 -0.3l0.9 -0.3l1 -0.3l0.9 -0.3l1 -0.3l0.9 -0.3l1 -0.3l0.9 -0.3l1 -0.3l0.9 -0.4l1 -0.3l0.9 -0.3l1 -0.3l0.9 -0.3l1 -0.4l0.9 -0.3l1 -0.3l0.9 -0.3l1 -0.4l0.9 -0.3l1 -0.3l0.9 -0.4l0.9 -0.3l1 -0.3l0.9 -0.4l1 -0.3l0.9 -0.4l0.9 -0.3l1 -0.4l0.9 -0.3l1 -0.3l0.9 -0.4l0.9 -0.4l1 -0.3l0.9 -0.4l0.9 -0.3l1 -0.4l0.9 -0.3l0.9 -0.4l1 -0.4l0.9 -0.3l0.9 -0.4l1 -0.4l0.9 -0.3l0.9 -0.4l0.9 -0.4l1 -0.4l0.9 -0.4l0.9 -0.3l0.9 -0.4l1 -0.4l0.9 -0.4l0.9 -0.4l0.9 -0.4l1 -0.3l0.9 -0.4l0.9 -0.4l0.9 -0.4l0.9 -0.4l1 -0.4l0.9 -0.4l0.9 -0.4l0.9 -0.4l0.9 -0.4l0.9 -0.4l0.9 -0.5l1 -0.4l0.9 -0.4l0.9 -0.4l0.9 -0.4l0.9 -0.4l0.9 -0.4l0.9 -0.5l0.9 -0.4l0.9 -0.4l0.9 -0.4l0.9 -0.5l0.9 -0.4l1 -0.4l0.9 -0.5l0.9 -0.4l0.9 -0.4l0.9 -0.5l0.9 -0.4l0.9 -0.4l0.9 -0.5l0.8 -0.4l0.9 -0.5l0.9 -0.4l0.9 -0.5l0.9 -0.4l0.9 -0.5l0.9 -0.4l0.9 -0.5l0.9 -0.4l0.9 -0.5l0.9 -0.4l0.9 -0.5l0.8 -0.5l0.9 -0.4l0.9 -0.5l0.9 -0.5l0.9 -0.4l0.9 -0.5l0.9 -0.5l0.8 -0.5l0.9 -0.4l0.9 -0.5l0.9 -0.5l0.8 -0.5l0.9 -0.5l0.9 -0.4l0.9 -0.5l0.9 -0.5l0.8 -0.5l0.9 -0.5l0.9 -0.5l0.8 -0.5l0.9 -0.5l0.9 -0.5l0.8 -0.5l0.9 -0.5l0.9 -0.5l0.8 -0.5l0.9 -0.5l0.9 -0.5l0.8 -0.5l0.9 -0.5l0.9 -0.5l0.8 -0.5l0.9 -0.5l0.8 -0.5l0.9 -0.6l0.8 -0.5l0.9 -0.5l0.9 -0.5l0.8 -0.5l0.9 -0.6l0.8 -0.5l0.9 -0.5l0.8 -0.5l0.9 -0.6l0.8 -0.5l0.9 -0.5l0.8 -0.6l0.8 -0.5l0.9 -0.5l0.8 -0.6l0.9 -0.5l0.8 -0.6l0.9 -0.5l0.8 -0.6l0.8 -0.5l0.9 -0.5l0.8 -0.6l0.8 -0.5l0.9 -0.6l0.8 -0.6l0.8 -0.5l0.9 -0.6l0.8 -0.5l0.8 -0.6l0.9 -0.5l0.8 -0.6l0.8 -0.6l0.8 -0.5l0.9 -0.6l0.8 -0.6l0.8 -0.6l0.8 -0.5l0.8 -0.6l0.9 -0.6l0.8 -0.6l0.8 -0.5l0.8 -0.6l0.8 -0.6l0.8 -0.6l0.8 -0.6l0.9 -0.6l0.8 -0.5l0.8 -0.6l0.8 -0.6l0.8 -0.6l0.8 -0.6l0.8 -0.6l0.8 -0.6l0.8 -0.6l0.8 -0.6l0.8 -0.6l0.8 -0.6l0.8 -0.6l0.8 -0.6l0.8 -0.7l0.8 -0.6l0.8 -0.6l0.7 -0.6l0.8 -0.6l0.8 -0.6l0.8 -0.7l0.8 -0.6l0.8 -0.6l0.7 -0.6l0.8 -0.7l0.8 -0.6l0.8 -0.6l0.8 -0.6l0.7 -0.7l0.8 -0.6l0.8 -0.6l0.8 -0.7l0.7 -0.6l0.8 -0.7l0.8 -0.6l0.7 -0.6l0.8 -0.7l0.8 -0.6l0.7 -0.7l0.8 -0.6l0.7 -0.7l0.8 -0.6l0.8 -0.7l0.7 -0.7l0.8 -0.6l0.7 -0.7l0.8 -0.6l0.7 -0.7l0.8 -0.7l0.7 -0.6l0.8 -0.7l0.7 -0.7l0.7 -0.6l0.8 -0.7l0.7 -0.7l0.8 -0.6l0.7 -0.7l0.7 -0.7l0.8 -0.7l0.7 -0.7l0.7 -0.6l0.8 -0.7l0.7 -0.7l0.7 -0.7l0.8 -0.7l0.7 -0.7l0.7 -0.7l0.7 -0.7l0.7 -0.7l0.8 -0.6l0.7 -0.7l0.7 -0.7l0.7 -0.7l0.7 -0.7l0.7 -0.7l0.8 -0.7l0.7 -0.8l0.7 -0.7l0.7 -0.7l0.7 -0.7l0.7 -0.7l0.7 -0.7l0.7 -0.7l0.7 -0.7l0.7 -0.7l0.7 -0.8l0.7 -0.7l0.7 -0.7l0.7 -0.7l0.7 -0.7l0.7 -0.8l0.7 -0.7l0.6 -0.7l0.7 -0.7l0.7 -0.8l0.7 -0.7l0.7 -0.7l0.7 -0.8l0.6 -0.7l0.7 -0.7l0.7 -0.8l0.7 -0.7l0.7 -0.7l0.6 -0.8l0.7 -0.7l0.7 -0.8l0.6 -0.7l0.7 -0.8l0.7 -0.7l0.6 -0.8l0.7 -0.7l0.7 -0.8l0.6 -0.7l0.7 -0.8l0.6 -0.7l0.7 -0.8l0.7 -0.7l0.6 -0.8l0.7 -0.7l0.6 -0.8l0.7 -0.8l0.6 -0.7l0.7 -0.8l0.6 -0.7l0.7 -0.8l0.6 -0.8l0.6 -0.7l0.7 -0.8l0.6 -0.8l0.7 -0.7l0.6 -0.8l0.6 -0.8l0.7 -0.8l0.6 -0.7l0.6 -0.8l0.7 -0.8l0.6 -0.8l0.6 -0.7l0.7 -0.8l0.6 -0.8l0.6 -0.8l0.6 -0.8l0.7 -0.8l0.6 -0.7l0.6 -0.8l0.6 -0.8l0.6 -0.8l0.6 -0.8l0.7 -0.8l0.6 -0.8l0.6 -0.8l0.6 -0.8l0.6 -0.7l0.6 -0.8l0.6 -0.8l0.6 -0.8l0.6 -0.8l0.6 -0.8l0.6 -0.8l0.6 -0.8l0.6 -0.8l0.6 -0.8l0.6 -0.8l0.6 -0.8l0.6 -0.8l0.6 -0.8l0.6 -0.9l0.6 -0.8l0.6 -0.8l0.6 -0.8l0.6 -0.8l0.5 -0.8l0.6 -0.8l0.6 -0.8l0.6 -0.8l0.6 -0.9l0.6 -0.8l0.5 -0.8l0.6 -0.8l0.6 -0.8l0.6 -0.8l0.5 -0.9l0.6 -0.8l0.6 -0.8l0.6 -0.8l0.5 -0.8l0.6 -0.9l0.6 -0.8l0.5 -0.8l0.6 -0.8l0.6 -0.9l0.5 -0.8l0.6 -0.8l0.6 -0.8l0.5 -0.9l0.6 -0.8l0.5 -0.8l0.6 -0.9l0.5 -0.8l0.6 -0.8l0.6 -0.9l0.5 -0.8l0.6 -0.8l0.5 -0.9l0.6 -0.8l0.5 -0.8l0.6 -0.9l0.5 -0.8l0.5 -0.9l0.6 -0.8l0.5 -0.8l0.6 -0.9l0.5 -0.8l0.5 -0.9l0.6 -0.8l0.5 -0.9l0.6 -0.8l0.5 -0.8l0.5 -0.9l0.6 -0.8l0.5 -0.9l0.5 -0.8l0.6 -0.9l0.5 -0.8l0.5 -0.9l0.5 -0.8l0.6 -0.9l0.5 -0.8l0.5 -0.9l0.5 -0.8l0.6 -0.9l0.5 -0.8l0.5 -0.9l0.5 -0.9l0.5 -0.8l0.6 -0.9l0.5 -0.8l0.5 -0.9l0.5 -0.8l0.5 -0.9l0.5 -0.9l0.5 -0.8l0.6 -0.9l0.5 -0.8l0.5 -0.9l0.5 -0.9l0.5 -0.8l0.5 -0.9l0.5 -0.9l0.5 -0.8l0.5 -0.9l0.5 -0.9l0.5 -0.8l0.5 -0.9l0.5 -0.9l0.5 -0.8l0.5 -0.9l0.5 -0.9l0.5 -0.8l0.5 -0.9l0.5 -0.9l0.5 -0.8l0.5 -0.9l0.5 -0.9l0.4 -0.9l0.5 -0.8l0.5 -0.9l0.5 -0.9l0.5 -0.8l0.5 -0.9l0.5 -0.9l0.4 -0.9l0.5 -0.9l0.5 -0.8l0.5 -0.9l0.5 -0.9l0.5 -0.9l0.4 -0.8l0.5 -0.9l0.5 -0.9l0.5 -0.9l0.4 -0.9l0.5 -0.8l0.5 -0.9l0.5 -0.9l0.4 -0.9l0.5 -0.9l0.5 -0.9l0.4 -0.8l0.5 -0.9l0.5 -0.9l0.4 -0.9l0.5 -0.9l0.5 -0.9l0.4 -0.8l0.5 -0.9l0.5 -0.9l0.4 -0.9l0.5 -0.9l0.5 -0.9l0.4 -0.9l0.5 -0.9l0.4 -0.9l0.5 -0.8l0.4 -0.9l0.5 -0.9l0.5 -0.9l0.4 -0.9l0.5 -0.9l0.4 -0.9l0.5 -0.9l0.4 -0.9l0.5 -0.9l0.4 -0.9l0.5 -0.9l0.4 -0.9l0.5 -0.8l0.4 -0.9l0.5 -0.9l0.4 -0.9l0.4 -0.9l0.5 -0.9l0.4 -0.9l0.5 -0.9l0.4 -0.9l0.5 -0.9l0.4 -0.9l0.4 -0.9l0.5 -0.9l0.4 -0.9l0.4 -0.9l0.5 -0.9l0.4 -0.9l0.5 -0.9l0.4 -0.9l0.4 -0.9l0.5 -0.9l0.4 -0.9l0.4 -0.9l0.4 -0.9l0.5 -0.9l0.4 -0.9l0.4 -0.9l0.5 -1.0l0.4 -0.9l0.4 -0.9l0.4 -0.9l0.5 -0.9l0.4 -0.9l0.4 -0.9l0.4 -0.9l0.5 -0.9l0.4 -0.9l0.4 -0.9l0.4 -0.9l0.4 -0.9l0.5 -0.9l0.4 -0.9l0.4 -1.0l0.4 -0.9l0.4 -0.9l0.4 -0.9l0.5 -0.9l0.4 -0.9l0.4 -0.9l0.4 -0.9l0.4 -0.9l0.4 -1.0l0.4 -0.9l0.4 -0.9l0.4 -0.9l0.5 -0.9l0.4 -0.9l0.4 -0.9l0.4 -1.0l0.4 -0.9l0.4 -0.9l0.4 -0.9l0.4 -0.9l0.4 -0.9l0.4 -0.9l0.4 -1.0l0.4 -0.9l0.4 -0.9l0.4 -0.9l0.4 -0.9l0.4 -0.9l0.4 -1.0l0.4 -0.9l0.4 -0.9l0.4 -0.9l0.4 -0.9l0.4 -1.0l0.4 -0.9l0.4 -0.9l0.4 -0.9l0.4 -0.9l0.3 -1.0l0.4 -0.9l0.4 -0.9l0.4 -0.9l0.4 -0.9l0.4 -1.0l0.4 -0.9l0.4 -0.9l0.4 -0.9l0.3 -1.0l0.4 -0.9l0.4 -0.9l0.4 -0.9l0.4 -1.0l0.4 -0.9l0.3 -0.9l0.4 -0.9l0.4 -1.0l0.4 -0.9l0.4 -0.9l0.3 -0.9l0.4 -1.0l0.4 -0.9l0.4 -0.9l0.4 -0.9l0.3 -1.0l0.4 -0.9l0.4 -0.9l0.4 -0.9l0.3 -1.0l0.4 -0.9l0.4 -0.9l0.4 -1.0l0.3 -0.9l0.4 -0.9l0.4 -0.9l0.3 -1.0l0.4 -0.9l0.4 -0.9l0.3 -1.0l0.4 -0.9l0.4 -0.9l0.3 -1.0l0.4 -0.9l0.4 -0.9l0.3 -1.0l0.4 -0.9l0.4 -0.9l0.3 -1.0l0.4 -0.9l0.4 -0.9l0.3 -1.0l0.4 -0.9l0.3 -0.9l0.4 -1.0l0.4 -0.9l0.3 -0.9l0.4 -1.0l0.3 -0.9l0.4 -0.9l0.3 -1.0l0.4 -0.9l0.4 -0.9l0.3 -1.0l0.4 -0.9l0.3 -0.9l0.4 -1.0l0.3 -0.9l0.4 -0.9l0.3 -1.0l0.4 -0.9l0.3 -1.0l0.4 -0.9l0.3 -0.9l0.4 -1.0l0.3 -0.9l0.4 -0.9l0.3 -1.0l0.4 -0.9l0.3 -1.0l0.4 -0.9l0.3 -0.9l0.4 -1.0l0.3 -0.9l0.3 -1.0l0.4 -0.9l0.3 -0.9l0.4 -1.0l0.3 -0.9l0.4 -1.0l0.3 -0.9l0.3 -0.9l0.4 -1.0l0.3 -0.9l0.4 -1.0l0.3 -0.9l0.3 -0.9l0.4 -1.0l0.3 -0.9l0.3 -1.0l0.4 -0.9l0.3 -1.0l0.3 -0.9l0.4 -0.9l0.3 -1.0l0.3 -0.9l0.4 -1.0l0.3 -0.9l0.3 -1.0l0.4 -0.9l0.3 -1.0l0.3 -0.9l0.4 -0.9l0.3 -1.0l0.3 -0.9l0.4 -1.0l0.3 -0.9l0.3 -1.0l0.3 -0.9l0.4 -1.0l0.3 -0.9l0.3 -1.0l0.3 -0.9l0.4 -0.9l0.3 -1.0l0.3 -0.9l0.3 -1.0l0.4 -0.9l0.3 -1.0l0.3 -0.9l0.3 -1.0l0.4 -0.9l0.3 -1.0l0.3 -0.9l0.3 -1.0l0.3 -0.9l0.4 -1.0l0.3 -0.9l0.3 -1.0l0.3 -0.9l0.3 -1.0l0.3 -0.9l0.4 -1.0l0.3 -0.9l0.3 -1.0l0.3 -0.9l0.3 -1.0l0.3 -0.9l0.3 -1.0l0.4 -0.9l0.3 -1.0l0.3 -0.9l0.3 -1.0l0.3 -0.9l0.3 -1.0l0.3 -0.9l0.3 -1.0l0.3 -0.9l0.4 -1.0l0.3 -0.9l0.3 -1.0l0.3 -0.9l0.3 -1.0l0.3 -0.9l0.3 -1.0l0.3 -0.9l0.3 -1.0l0.3 -0.9l0.3 -1.0l0.3 -0.9l0.3 -1.0l0.3 -0.9l0.3 -1.0l0.4 -1.0l0.3 -0.9l0.3 -1.0l0.3 -0.9l0.3 -1.0l0.3 -0.9l0.3 -1.0l0.3 -0.9l0.3 -1.0l0.3 -0.9l0.3 -1.0l0.3 -0.9l0.3 -1.0l0.3 -1.0l0.3 -0.9l0.3 -1.0l0.2 -0.9l0.3 -1.0l0.3 -0.9l0.3 -1.0l0.3 -0.9l0.3 -1.0l0.3 -1.0l0.3 -0.9l0.3 -1.0l0.3 -0.9l0.3 -1.0l0.3 -0.9l0.3 -1.0l0.3 -1.0l0.3 -0.9l0.3 -1.0l0.2 -0.9l0.3 -1.0l0.3 -0.9l0.3 -1.0l0.3 -1.0l0.3 -0.9l0.3 -1.0l0.3 -0.9l0.3 -1.0l0.2 -1.0l0.3 -0.9l0.3 -1.0l0.3 -0.9l0.3 -1.0l0.3 -0.9l0.3 -1.0l0.3 -1.0l0.2 -0.9l0.3 -1.0l0.3 -0.9l0.3 -1.0l0.3 -1.0l0.3 -0.9l0.2 -1.0l0.3 -0.9l0.3 -1.0l0.3 -1.0l0.3 -0.9l0.2 -1.0l0.3 -0.9l0.3 -1.0l0.3 -1.0l0.3 -0.9l0.2 -1.0l0.3 -0.9l0.3 -1.0l0.3 -1.0l0.3 -0.9l0.2 -1.0l0.3 -1.0l0.3 -0.9l0.3 -1.0l0.2 -0.9l0.3 -1.0l0.3 -1.0l0.3 -0.9l0.2 -1.0l0.3 -0.9l0.3 -1.0l0.3 -1.0l0.2 -0.9l0.3 -1.0l0.3 -1.0l0.3 -0.9l0.2 -1.0l0.3 -1.0l0.3 -0.9l0.2 -1.0l0.3 -0.9l0.3 -1.0l0.3 -1.0l0.2 -0.9l0.3 -1.0l0.3 -1.0l0.2 -0.9l0.3 -1.0l0.3 -1.0l0.2 -0.9l0.3 -1.0l0.3 -0.9l0.2 -1.0l0.3 -1.0l0.3 -0.9l0.2 -1.0l0.3 -1.0l0.3 -0.9l0.2 -1.0l0.3 -1.0l0.3 -0.9l0.2 -1.0l0.3 -1.0l0.2 -0.9l0.3 -1.0l0.3 -1.0l0.2 -0.9l0.3 -1.0l0.3 -0.9l0.2 -1.0l0.3 -1.0l0.2 -0.9l0.3 -1.0l0.3 -1.0l0.2 -0.9l0.3 -1.0l0.2 -1.0l0.3 -0.9l0.3 -1.0l0.2 -1.0l0.3 -0.9l0.2 -1.0l0.3 -1.0l0.3 -0.9l0.2 -1.0l0.3 -1.0l0.2 -0.9l0.3 -1.0l0.2 -1.0l0.3 -0.9l0.3 -1.0l0.2 -1.0l0.3 -0.9l0.2 -1.0l0.3 -1.0l0.2 -1.0l0.3 -0.9l0.2 -1.0l0.3 -1.0l0.2 -0.9l0.3 -1.0l0.2 -1.0l0.3 -0.9l0.2 -1.0l0.3 -1.0l0.3 -0.9l0.2 -1.0l0.3 -1.0l0.2 -0.9l0.3 -1.0l0.2 -1.0l0.3 -0.9l0.2 -1.0l0.3 -1.0l0.2 -1.0l0.3 -0.9l0.2 -1.0l0.2 -1.0l0.3 -0.9l0.2 -1.0l0.3 -1.0l0.2 -0.9l0.3 -1.0l0.2 -1.0l0.3 -0.9l0.2 -1.0l0.3 -1.0l0.2 -1.0l0.3 -0.9l0.2 -1.0l0.3 -1.0l0.2 -0.9l0.2 -1.0l0.3 -1.0l0.2 -1.0l0.3 -0.9l0.2 -1.0l0.3 -1.0l0.2 -0.9l0.3 -1.0l0.2 -1.0l0.2 -0.9l0.3 -1.0l0.2 -1.0l0.3 -1.0l0.2 -0.9l0.2 -1.0l0.3 -1.0l0.2 -0.9l0.3 -1.0l0.2 -1.0l0.3 -1.0l0.2 -0.9l0.2 -1.0l0.3 -1.0l0.2 -0.9l0.2 -1.0l0.3 -1.0l0.2 -1.0l0.3 -0.9l0.2 -1.0l0.2 -1.0l0.3 -0.9l0.2 -1.0l0.3 -1.0l0.2 -1.0l0.2 -0.9l0.3 -1.0l0.2 -1.0l0.2 -0.9l0.3 -1.0l0.2 -1.0l0.3 -1.0l0.2 -0.9l0.2 -1.0l0.3 -1.0l0.2 -1.0l0.2 -0.9l0.3 -1.0l0.2 -1.0l0.2 -0.9l0.3 -1.0l0.2 -1.0l0.2 -1.0l0.3 -0.9l0.2 -1.0l0.2 -1.0l0.3 -1.0l0.2 -0.9l0.2 -1.0l0.3 -1.0l0.2 -0.9l0.2 -1.0l0.3 -1.0l0.2 -1.0l0.2 -0.9l0.3 -1.0l0.2 -1.0l0.2 -1.0l0.3 -0.9l0.2 -1.0l0.2 -1.0l0.2 -1.0l0.3 -0.9l0.2 -1.0l0.2 -1.0l0.3 -1.0l0.2 -0.9l0.2 -1.0l0.3 -1.0l0.2 -0.9l0.2 -1.0l0.2 -1.0l0.3 -1.0l0.2 -0.9l0.2 -1.0l0.3 -1.0l0.2 -1.0l0.2 -0.9l0.2 -1.0l0.3 -1.0l0.2 -1.0l0.2 -0.9l0.2 -1.0l0.3 -1.0l0.2 -1.0l0.2 -0.9l0.3 -1.0l0.2 -1.0l0.2 -1.0l0.2 -0.9l0.3 -1.0l0.2 -1.0l0.2 -1.0l0.2 -0.9l0.3 -1.0l0.2 -1.0l0.2 -1.0l0.2 -0.9l0.3 -1.0l0.2 -1.0l0.2 -1.0l0.2 -0.9l0.3 -1.0l0.2 -1.0l0.2 -1.0l0.2 -0.9l0.3 -1.0l0.2 -1.0l0.2 -1.0l0.2 -0.9l0.2 -1.0l0.3 -1.0l0.2 -1.0l0.2 -0.9l0.2 -1.0l0.3 -1.0l0.2 -1.0l0.2 -0.9l0.2 -1.0l0.2 -1.0l0.3 -1.0l0.2 -0.9l0.2 -1.0l0.2 -1.0l0.2 -1.0l0.3 -1.0l0.2 -0.9l0.2 -1.0l0.2 -1.0l0.2 -1.0l0.3 -0.9l0.2 -1.0l0.2 -1.0l0.2 -1.0l0.2 -0.9l0.3 -1.0l0.2 -1.0l0.2 -1.0l0.2 -0.9l0.2 -1.0l0.3 -1.0l0.2 -1.0l0.2 -0.9l0.2 -1.0l0.2 -1.0l0.3 -1.0l0.2 -1.0l0.2 -0.9l0.2 -1.0l0.2 -1.0l0.2 -1.0l0.3 -0.9l0.2 -1.0l0.2 -1.0l0.2 -1.0l0.2 -0.9l0.2 -1.0l0.3 -1.0l0.2 -1.0l0.2 -1.0l0.2 -0.9l0.2 -1.0l0.2 -1.0l0.3 -1.0l0.2 -0.9l0.2 -1.0l0.2 -1.0l0.2 -1.0l0.2 -0.9l0.2 -1.0l0.3 -1.0l0.2 -1.0l0.2 -1.0l0.2 -0.9l0.2 -1.0l0.2 -1.0l0.3 -1.0l0.2 -0.9l0.2 -1.0l0.2 -1.0l0.2 -1.0l0.2 -1.0l0.2 -0.9l0.2 -1.0l0.3 -1.0l0.2 -1.0l0.2 -0.9l0.2 -1.0l0.2 -1.0l0.2 -1.0l0.2 -1.0l0.3 -0.9l0.2 -1.0l0.2 -1.0l0.2 -1.0l0.2 -0.9l0.2 -1.0l0.2 -1.0l0.2 -1.0l0.2 -1.0l0.3 -0.9l0.2 -1.0l0.2 -1.0l0.2 -1.0l0.2 -0.9l0.2 -1.0l0.2 -1.0l0.2 -1.0l0.3 -1.0l0.2 -0.9l0.2 -1.0l0.2 -1.0l0.2 -1.0l0.2 -0.9l0.2 -1.0l0.2 -1.0l0.2 -1.0l0.2 -1.0l0.3 -0.9l0.2 -1.0l0.2 -1.0l0.2 -1.0l0.2 -1.0l0.2 -0.9l0.2 -1.0l0.2 -1.0l0.2 -1.0l0.2 -0.9l0.2 -1.0l0.3 -1.0l0.2 -1.0l0.2 -1.0l0.2 -0.9l0.2 -1.0l0.2 -1.0l0.2 -1.0l0.2 -1.0l0.2 -0.9l0.2 -1.0l0.2 -1.0l0.2 -1.0l0.3 -0.9l0.2 -1.0l0.2 -1.0l0.2 -1.0l0.2 -1.0l0.2 -0.9l0.2 -1.0l0.2 -1.0l0.2 -1.0l0.2 -1.0l0.2 -0.9l0.2 -1.0l0.2 -1.0l0.2 -1.0l0.3 -1.0l0.2 -0.9l0.2 -1.0l0.2 -1.0l0.2 -1.0l0.2 -0.9l0.2 -1.0l0.2 -1.0l0.2 -1.0l0.2 -1.0l0.2 -0.9l0.2 -1.0l0.2 -1.0l0.2 -1.0l0.2 -1.0l0.2 -0.9l0.2 -1.0l0.3 -1.0l0.2 -1.0l0.2 -1.0l0.2 -0.9l0.2 -1.0l0.2 -1.0l0.2 -1.0l0.2 -1.0l0.2 -0.9l0.2 -1.0l0.2 -1.0l0.2 -1.0l0.2 -1.0l0.2 -0.9l0.2 -1.0l0.2 -1.0l0.2 -1.0l0.2 -0.9l0.2 -1.0l0.2 -1.0l0.2 -1.0l0.2 -1.0l0.2 -0.9l0.2 -1.0l0.3 -1.0l0.2 -1.0l0.2 -1.0l0.2 -0.9l0.2 -1.0l0.2 -1.0l0.2 -1.0l0.2 -1.0l0.2 -0.9l0.2 -1.0l0.2 -1.0l0.2 -1.0l0.2 -1.0l0.2 -0.9l0.2 -1.0l0.2 -1.0l0.2 -1.0l0.2 -1.0l0.2 -0.9l0.2 -1.0l0.2 -1.0l0.2 -1.0l0.2 -1.0l0.2 -0.9l0.2 -1.0l0.2 -1.0l0.2 -1.0l0.2 -1.0l0.2 -0.9l0.2 -1.0l0.2 -1.0l0.2 -1.0l0.2 -1.0l0.2 -0.9l0.2 -1.0l0.2 -1.0l0.2 -1.0l0.2 -1.0l0.2 -0.9l0.2 -1.0l0.2 -1.0l0.2 -1.0l0.2 -1.0l0.2 -1.0l0.2 -0.9l0.2 -1.0l0.2 -1.0l0.2 -1.0l0.2 -1.0l0.2 -0.9l0.2 -1.0l0.2 -1.0l0.2 -1.0l0.2 -1.0l0.2 -0.9l0.2 -1.0l0.2 -1.0l0.2 -1.0l0.2 -1.0l0.2 -0.9l0.2 -1.0l0.2 -1.0l0.2 -1.0l0.2 -1.0l0.2 -0.9l0.2 -1.0l0.2 -1.0l0.2 -1.0l0.2 -1.0l0.2 -0.9l0.2 -1.0l0.2 -1.0l0.2 -1.0l0.2 -1.0l0.2 -0.9" fill="none" stroke="#000" stroke-width="5.8" stroke-dasharray="15.5 2.2 8 2.3" stroke-linejoin="round"/>
<path d="M297.2 1210.9l2 -0.1l2 -0.1l2 -0.2l2 -0.1l2 -0.1l2 -0.1l2 -0.2l2 -0.1l2 -0.1l2 -0.1l2 -0.2l2 -0.1l2 -0.1l2 -0.1l2 -0.2l2 -0.1l2 -0.1l2 -0.2l2 -0.1l2 -0.1l2 -0.2l2 -0.1l2 -0.1l2 -0.2l2 -0.1l2 -0.1l2 -0.2l2 -0.1l2 -0.1l2 -0.2l2 -0.1l2 -0.1l2 -0.2l2 -0.1l2 -0.2l2 -0.1l2 -0.2l2 -0.1l1.9 -0.1l2 -0.2l2 -0.1l2 -0.2l2 -0.1l2 -0.2l2 -0.1l2 -0.2l2 -0.1l2 -0.2l2 -0.1l2 -0.2l2 -0.1l2 -0.2l2 -0.2l2 -0.1l2 -0.2l2 -0.1l2 -0.2l2 -0.2l2 -0.1l2 -0.2l2 -0.2l2 -0.1l2 -0.2l2 -0.2l2 -0.1l2 -0.2l2 -0.2l2 -0.1l2 -0.2l1.9 -0.2l2 -0.2l2 -0.1l2 -0.2l2 -0.2l2 -0.2l2 -0.2l2 -0.1l2 -0.2l2 -0.2l2 -0.2l2 -0.2l2 -0.2l2 -0.2l2 -0.1l2 -0.2l2 -0.2l2 -0.2l1.9 -0.2l2 -0.2l2 -0.2l2 -0.2l2 -0.2l2 -0.2l2 -0.2l2 -0.2l2 -0.2l2 -0.3l2 -0.2l2 -0.2l2 -0.2l1.9 -0.2l2 -0.2l2 -0.2l2 -0.2l2 -0.3l2 -0.2l2 -0.2l2 -0.2l2 -0.3l2 -0.2l2 -0.2l1.9 -0.2l2 -0.3l2 -0.2l2 -0.2l2 -0.3l2 -0.2l2 -0.3l2 -0.2l2 -0.2l1.9 -0.3l2 -0.2l2 -0.3l2 -0.2l2 -0.3l2 -0.2l2 -0.3l2 -0.2l1.9 -0.3l2 -0.3l2 -0.2l2 -0.3l2 -0.2l2 -0.3l2 -0.3l1.9 -0.2l2 -0.3l2 -0.3l2 -0.3l2 -0.2l2 -0.3l1.9 -0.3l2 -0.3l2 -0.3l2 -0.2l2 -0.3l2 -0.3l1.9 -0.3l2 -0.3l2 -0.3l2 -0.3l2 -0.3l1.9 -0.3l2 -0.3l2 -0.3l2 -0.3l2 -0.3l1.9 -0.3l2 -0.3l2 -0.3l2 -0.4l2 -0.3l1.9 -0.3l2 -0.3l2 -0.3l2 -0.4l1.9 -0.3l2 -0.3l2 -0.3l2 -0.4l1.9 -0.3l2 -0.3l2 -0.4l2 -0.3l1.9 -0.4l2 -0.3l2 -0.4l2 -0.3l1.9 -0.4l2 -0.3l2 -0.4l1.9 -0.3l2 -0.4l2 -0.4l2 -0.3l1.9 -0.4l2 -0.4l2 -0.3l1.9 -0.4l2 -0.4l2 -0.4l1.9 -0.3l2 -0.4l2 -0.4l1.9 -0.4l2 -0.4l2 -0.4l1.9 -0.4l2 -0.4l1.9 -0.4l2 -0.4l2 -0.4l1.9 -0.4l2 -0.4l2 -0.4l1.9 -0.4l2 -0.4l1.9 -0.4l2 -0.4l2 -0.5l1.9 -0.4l2 -0.4l1.9 -0.4l2 -0.5l1.9 -0.4l2 -0.4l1.9 -0.5l2 -0.4l2 -0.4l1.9 -0.5l2 -0.4l1.9 -0.5l2 -0.4l1.9 -0.5l2 -0.4l1.9 -0.5l2 -0.5l1.9 -0.4l2 -0.5l1.9 -0.5l2 -0.4l1.9 -0.5l2 -0.5l1.9 -0.5l1.9 -0.4l2 -0.5l1.9 -0.5l2 -0.5l1.9 -0.5l2 -0.5l1.9 -0.5l1.9 -0.5l2 -0.5l1.9 -0.5l2 -0.5l1.9 -0.5l1.9 -0.5l2 -0.5l1.9 -0.5l1.9 -0.5l2 -0.5l1.9 -0.6l1.9 -0.5l2 -0.5l1.9 -0.5l1.9 -0.6l2 -0.5l1.9 -0.5l1.9 -0.6l2 -0.5l1.9 -0.6l1.9 -0.5l1.9 -0.6l2 -0.5l1.9 -0.6l1.9 -0.5l1.9 -0.6l2 -0.5l1.9 -0.6l1.9 -0.6l1.9 -0.5l1.9 -0.6l2 -0.6l1.9 -0.5l1.9 -0.6l1.9 -0.6l1.9 -0.6l2 -0.6l1.9 -0.5l1.9 -0.6l1.9 -0.6l1.9 -0.6l1.9 -0.6l1.9 -0.6l1.9 -0.6l2 -0.6l1.9 -0.6l1.9 -0.6l1.9 -0.6l1.9 -0.6l1.9 -0.6l1.9 -0.7l1.9 -0.6l1.9 -0.6l1.9 -0.6l1.9 -0.6l1.9 -0.7l1.9 -0.6l1.9 -0.6l1.9 -0.7l1.9 -0.6l1.9 -0.6l1.9 -0.7l1.9 -0.6l1.9 -0.7l1.9 -0.6l1.9 -0.7l1.9 -0.6l1.9 -0.7l1.9 -0.6l1.9 -0.7l1.9 -0.6l1.9 -0.7l1.9 -0.7l1.8 -0.6l1.9 -0.7l1.9 -0.7l1.9 -0.7l1.9 -0.6l1.9 -0.7l1.9 -0.7l1.8 -0.7l1.9 -0.7l1.9 -0.7l1.9 -0.6l1.9 -0.7l1.8 -0.7l1.9 -0.7l1.9 -0.7l1.9 -0.7l1.8 -0.7l1.9 -0.7l1.9 -0.7l1.9 -0.8l1.8 -0.7l1.9 -0.7l1.9 -0.7l1.9 -0.7l1.8 -0.7l1.9 -0.8l1.9 -0.7l1.8 -0.7l1.9 -0.7l1.9 -0.8l1.8 -0.7l1.9 -0.7l1.8 -0.8l1.9 -0.7l1.9 -0.8l1.8 -0.7l1.9 -0.8l1.8 -0.7l1.9 -0.8l1.9 -0.7l1.8 -0.8l1.9 -0.7l1.8 -0.8l1.9 -0.7l1.8 -0.8l1.9 -0.8l1.8 -0.7l1.9 -0.8l1.8 -0.8l1.9 -0.7l1.8 -0.8l1.9 -0.8l1.8 -0.8l1.8 -0.8l1.9 -0.8l1.8 -0.7l1.9 -0.8l1.8 -0.8l1.9 -0.8l1.8 -0.8l1.8 -0.8l1.9 -0.8l1.8 -0.8l1.8 -0.8l1.9 -0.8l1.8 -0.8l1.8 -0.8l1.9 -0.8l1.8 -0.9l1.8 -0.8l1.9 -0.8l1.8 -0.8l1.8 -0.8l1.8 -0.9l1.9 -0.8l1.8 -0.8l1.8 -0.8l1.8 -0.9l1.9 -0.8l1.8 -0.8l1.8 -0.9l1.8 -0.8l1.8 -0.9l1.8 -0.8l1.9 -0.8l1.8 -0.9l1.8 -0.8l1.8 -0.9l1.8 -0.8l1.8 -0.9l1.8 -0.9l1.8 -0.8l1.9 -0.9l1.8 -0.8l1.8 -0.9l1.8 -0.9l1.8 -0.8l1.8 -0.9l1.8 -0.9l1.8 -0.9l1.8 -0.8l1.8 -0.9l1.8 -0.9l1.8 -0.9l1.8 -0.9l1.8 -0.9l1.8 -0.8l1.8 -0.9l1.8 -0.9l1.8 -0.9l1.8 -0.9l1.7 -0.9l1.8 -0.9l1.8 -0.9l1.8 -0.9l1.8 -0.9l1.8 -0.9l1.8 -0.9l1.8 -0.9l1.7 -0.9l1.8 -0.9l1.8 -1.0l1.8 -0.9l1.8 -0.9l1.8 -0.9l1.7 -0.9l1.8 -0.9l1.8 -1.0l1.8 -0.9l1.8 -0.9l1.7 -0.9l1.8 -1.0l1.8 -0.9l1.8 -0.9l1.7 -0.9l1.8 -1.0l1.8 -0.9l1.7 -0.9l1.8 -1.0l1.8 -0.9l1.8 -1.0l1.7 -0.9l1.8 -0.9l1.8 -1.0l1.7 -0.9l1.8 -1.0l1.8 -0.9l1.7 -1.0l1.8 -0.9l1.7 -1.0l1.8 -0.9l1.8 -1.0l1.7 -0.9l1.8 -1.0l1.8 -0.9l1.7 -1.0l1.8 -0.9l1.7 -1.0l1.8 -1.0l1.7 -0.9l1.8 -1.0l1.8 -1.0l1.7 -0.9l1.8 -1.0l1.7 -1.0l1.8 -0.9l1.7 -1.0l1.8 -1.0l1.7 -0.9l1.8 -1.0l1.7 -1.0l1.8 -1.0l1.7 -0.9l1.8 -1.0l1.7 -1.0l1.8 -1.0l1.7 -0.9l1.8 -1.0l1.7 -1.0l1.8 -1.0l1.7 -1.0l1.8 -0.9l1.7 -1.0l1.7 -1.0l1.8 -1.0l1.7 -1.0l1.8 -1.0l1.7 -1.0l1.8 -1.0l1.7 -0.9l1.7 -1.0l1.8 -1.0l1.7 -1.0l1.8 -1.0l1.7 -1.0l1.7 -1.0l1.8 -1.0l1.7 -1.0l1.8 -1.0l1.7 -1.0l1.7 -1.0l1.8 -1.0l1.7 -1.0l1.7 -1.0l1.8 -1.0l1.7 -1.0l1.7 -1.0l1.8 -1.0l1.7 -1.0l1.7 -1.0l1.8 -1.0l1.7 -1.0l1.7 -1.0l1.8 -1.0l1.7 -1.0l1.7 -1.0l1.8 -1.0l1.7 -1.0l1.7 -1.0l1.8 -1.1l1.7 -1.0l1.7 -1.0l1.8 -1.0l1.7 -1.0l1.7 -1.0l1.7 -1.0l1.8 -1.0l1.7 -1.0l1.7 -1.1l1.8 -1.0l1.7 -1.0l1.7 -1.0l1.7 -1.0l1.8 -1.0l1.7 -1.0l1.7 -1.1l1.7 -1.0l1.8 -1.0l1.7 -1.0l1.7 -1.0l1.7 -1.0l1.8 -1.1l1.7 -1.0l1.7 -1.0l1.7 -1.0l1.8 -1.0l1.7 -1.1l1.7 -1.0l1.7 -1.0l1.8 -1.0l1.7 -1.0l1.7 -1.1l1.7 -1.0l1.8 -1.0l1.7 -1.0l1.7 -1.0l1.7 -1.1l1.8 -1.0l1.7 -1.0l1.7 -1.0l1.7 -1.0l1.7 -1.1l1.8 -1.0l1.7 -1.0l1.7 -1.0l1.7 -1.1l1.8 -1.0l1.7 -1.0l1.7 -1.0l1.7 -1.0l1.7 -1.1l1.8 -1.0l1.7 -1.0l1.7 -1.0l1.7 -1.1l1.8 -1.0l1.7 -1.0l1.7 -1.0l1.7 -1.1l1.7 -1.0l1.8 -1.0l1.7 -1.0l1.7 -1.0l1.7 -1.1l1.8 -1.0l1.7 -1.0l1.7 -1.0l1.7 -1.1l1.7 -1.0l1.8 -1.0l1.7 -1.0l1.7 -1.0l1.7 -1.1l1.8 -1.0l1.7 -1.0l1.7 -1.0l1.7 -1.1l1.8 -1.0l1.7 -1.0l1.7 -1.0l1.7 -1.0l1.7 -1.1l1.8 -1.0l1.7 -1.0l1.7 -1.0l1.7 -1.0l1.8 -1.1l1.7 -1.0l1.7 -1.0l1.7 -1.0l1.8 -1.0l1.7 -1.0l1.7 -1.1l1.7 -1.0l1.8 -1.0l1.7 -1.0l1.7 -1.0l1.7 -1.0l1.8 -1.1l1.7 -1.0l1.7 -1.0l1.8 -1.0l1.7 -1.0l1.7 -1.0l1.7 -1.0l1.8 -1.1l1.7 -1.0l1.7 -1.0l1.8 -1.0l1.7 -1.0l1.7 -1.0l1.7 -1.0l1.8 -1.0l1.7 -1.0l1.7 -1.0l1.8 -1.1l1.7 -1.0l1.7 -1.0l1.8 -1.0l1.7 -1.0l1.7 -1.0l1.8 -1.0l1.7 -1.0l1.7 -1.0l1.8 -1.0l1.7 -1.0l1.7 -1.0l1.8 -1.0l1.7 -1.0l1.7 -1.0l1.8 -1.0l1.7 -1.0l1.7 -1.0l1.8 -1.0l1.7 -1.0l1.8 -1.0l1.7 -1.0l1.7 -1.0l1.8 -1.0l1.7 -1.0l1.8 -1.0l1.7 -0.9l1.7 -1.0l1.8 -1.0l1.7 -1.0l1.8 -1.0l1.7 -1.0l1.7 -1.0l1.8 -1.0l1.7 -0.9l1.8 -1.0l1.7 -1.0l1.8 -1.0l1.7 -1.0l1.8 -1.0l1.7 -0.9l1.8 -1.0l1.7 -1.0l1.8 -1.0l1.7 -0.9l1.8 -1.0l1.7 -1.0l1.8 -1.0l1.7 -0.9l1.8 -1.0l1.7 -1.0l1.8 -0.9l1.7 -1.0l1.8 -1.0l1.7 -0.9l1.8 -1.0l1.7 -1.0l1.8 -0.9" fill="none" stroke="#f00" stroke-width="5.8" stroke-linejoin="round"/>
<path d="M297.0 1225.9l1 0.0l1 -0.1l1 0.0l1 -0.1l1 0.0l1 -0.1l1 0.0l1 0.0l1 -0.1l1 0.0l1 -0.1l1 0.0l1 -0.1l1 0.0l1 -0.1l1 0.0l1 0.0l1 -0.1l1 0.0l1 -0.1l1 0.0l1 -0.1l1 0.0l1 0.0l1 -0.1l1 0.0l1 -0.1l1 0.0l1 0.0l1 -0.1l1 0.0l1 -0.1l1 0.0l1 0.0l1 -0.1l1 0.0l1 -0.1l1 0.0l1 0.0l1 -0.1l1 0.0l1 -0.1l1 0.0l1 0.0l1 -0.1l1 0.0l1 -0.1l1 0.0l1 0.0l1 -0.1l1 0.0l1 -0.1l1 0.0l1 0.0l1 -0.1l1 0.0l1 0.0l1 -0.1l1 0.0l1 -0.1l1 0.0l1 0.0l1 -0.1l1 0.0l1 -0.1l1 0.0l1 0.0l1 -0.1l1 0.0l1 -0.1l1 0.0l1 0.0l1 -0.1l1 0.0l1 -0.1l1 0.0l1 0.0l1 -0.1l1 0.0l1 -0.1l1 0.0l1 0.0l1 -0.1l1 0.0l1 -0.1l1 0.0l1 -0.1l1 0.0l1 0.0l1 -0.1l1 0.0l1 -0.1l1 0.0l1 -0.1l1 0.0l1 0.0l1 -0.1l1 0.0l1 -0.1l1 0.0l1 -0.1l1 0.0l1 -0.1l1 0.0l1 -0.1l1 0.0l1 -0.1l1 0.0l1 0.0l1 -0.1l1 0.0l1 -0.1l1 0.0l1 -0.1l1 0.0l1 -0.1l1 0.0l1 -0.1l1 0.0l1 -0.1l1 -0.1l1 0.0l1 -0.1l1 0.0l1 -0.1l1 0.0l1 -0.1l1 0.0l1 -0.1l1 0.0l1 -0.1l1 -0.1l1 0.0l1 -0.1l1 0.0l1 -0.1l1 -0.1l1 0.0l1 -0.1l1 0.0l1 -0.1l1 -0.1l1 0.0l1 -0.1l1 -0.1l1 0.0l1 -0.1l1 0.0l1 -0.1l1 -0.1l1 0.0l1 -0.1l1 -0.1l1 -0.1l1 0.0l1 -0.1l1 -0.1l0.9 0.0l1 -0.1l1 -0.1l1 -0.1l1 0.0l1 -0.1l1 -0.1l1 -0.1l1 0.0l1 -0.1l1 -0.1l1 -0.1l1 0.0l1 -0.1l1 -0.1l1 -0.1l1 -0.1l1 0.0l1 -0.1l1 -0.1l1 -0.1l1 -0.1l1 -0.1l1 -0.1l1 0.0l1 -0.1l1 -0.1l1 -0.1l1 -0.1l1 -0.1l1 -0.1l1 -0.1l1 -0.1l1 -0.1l1 -0.1l1 -0.1l1 -0.1l0.9 -0.1l1 -0.1l1 -0.1l1 -0.1l1 -0.1l1 -0.1l1 -0.1l1 -0.1l1 -0.1l1 -0.1l1 -0.1l1 -0.1l1 -0.1l1 -0.1l1 -0.1l1 -0.1l1 -0.1l1 -0.2l1 -0.1l1 -0.1l0.9 -0.1l1 -0.1l1 -0.1l1 -0.2l1 -0.1l1 -0.1l1 -0.1l1 -0.1l1 -0.2l1 -0.1l1 -0.1l1 -0.1l1 -0.2l1 -0.1l1 -0.1l0.9 -0.2l1 -0.1l1 -0.1l1 -0.2l1 -0.1l1 -0.1l1 -0.2l1 -0.1l1 -0.1l1 -0.2l1 -0.1l1 -0.2l0.9 -0.1l1 -0.1l1 -0.2l1 -0.1l1 -0.2l1 -0.1l1 -0.2l1 -0.1l1 -0.2l0.9 -0.1l1 -0.2l1 -0.1l1 -0.2l1 -0.2l1 -0.1l1 -0.2l1 -0.1l1 -0.2l0.9 -0.2l1 -0.1l1 -0.2l1 -0.2l1 -0.1l1 -0.2l1 -0.2l1 -0.1l0.9 -0.2l1 -0.2l1 -0.2l1 -0.1l1 -0.2l1 -0.2l0.9 -0.2l1 -0.2l1 -0.1l1 -0.2l1 -0.2l1 -0.2l0.9 -0.2l1 -0.2l1 -0.2l1 -0.1l1 -0.2l1 -0.2l0.9 -0.2l1 -0.2l1 -0.2l1 -0.2l1 -0.2l0.9 -0.2l1 -0.2l1 -0.2l1 -0.2l1 -0.2l0.9 -0.2l1 -0.3l1 -0.2l1 -0.2l1 -0.2l0.9 -0.2l1 -0.2l1 -0.2l1 -0.3l0.9 -0.2l1 -0.2l1 -0.2l1 -0.2l0.9 -0.3l1 -0.2l1 -0.2l1 -0.3l0.9 -0.2l1 -0.2l1 -0.3l1 -0.2l0.9 -0.2l1 -0.3l1 -0.2l1 -0.2l0.9 -0.3l1 -0.2l1 -0.3l0.9 -0.2l1 -0.3l1 -0.2l0.9 -0.3l1 -0.2l1 -0.3l0.9 -0.2l1 -0.3l1 -0.2l0.9 -0.3l1 -0.3l1 -0.2l0.9 -0.3l1 -0.2l1 -0.3l0.9 -0.3l1 -0.2l1 -0.3l0.9 -0.3l1 -0.3l1 -0.2l0.9 -0.3l1 -0.3l0.9 -0.3l1 -0.2l1 -0.3l0.9 -0.3l1 -0.3l0.9 -0.3l1 -0.3l1 -0.3l0.9 -0.3l1 -0.2l0.9 -0.3l1 -0.3l0.9 -0.3l1 -0.3l1 -0.3l0.9 -0.3l1 -0.3l0.9 -0.3l1 -0.3l0.9 -0.4l1 -0.3l0.9 -0.3l1 -0.3l0.9 -0.3l1 -0.3l0.9 -0.3l1 -0.3l0.9 -0.4l1 -0.3l0.9 -0.3l1 -0.3l0.9 -0.4l1 -0.3l0.9 -0.3l0.9 -0.3l1 -0.4l0.9 -0.3l1 -0.3l0.9 -0.4l1 -0.3l0.9 -0.4l0.9 -0.3l1 -0.3l0.9 -0.4l1 -0.3l0.9 -0.4l0.9 -0.3l1 -0.4l0.9 -0.3l0.9 -0.4l1 -0.3l0.9 -0.4l1 -0.4l0.9 -0.3l0.9 -0.4l1 -0.3l0.9 -0.4l0.9 -0.4l1 -0.3l0.9 -0.4l0.9 -0.4l0.9 -0.3l1 -0.4l0.9 -0.4l0.9 -0.4l1 -0.3l0.9 -0.4l0.9 -0.4l0.9 -0.4l1 -0.4l0.9 -0.4l0.9 -0.3l0.9 -0.4l0.9 -0.4l1 -0.4l0.9 -0.4l0.9 -0.4l0.9 -0.4l0.9 -0.4l1 -0.4l0.9 -0.4l0.9 -0.4l0.9 -0.4l0.9 -0.4l0.9 -0.4l0.9 -0.4l1 -0.4l0.9 -0.5l0.9 -0.4l0.9 -0.4l0.9 -0.4l0.9 -0.4l0.9 -0.4l0.9 -0.5l0.9 -0.4l0.9 -0.4l1 -0.4l0.9 -0.5l0.9 -0.4l0.9 -0.4l0.9 -0.4l0.9 -0.5l0.9 -0.4l0.9 -0.5l0.9 -0.4l0.9 -0.4l0.9 -0.5l0.9 -0.4l0.9 -0.5l0.9 -0.4l0.9 -0.5l0.8 -0.4l0.9 -0.5l0.9 -0.4l0.9 -0.5l0.9 -0.4l0.9 -0.5l0.9 -0.4l0.9 -0.5l0.9 -0.5l0.9 -0.4l0.8 -0.5l0.9 -0.4l0.9 -0.5l0.9 -0.5l0.9 -0.5l0.9 -0.4l0.8 -0.5l0.9 -0.5l0.9 -0.5l0.9 -0.4l0.9 -0.5l0.8 -0.5l0.9 -0.5l0.9 -0.5l0.9 -0.5l0.8 -0.4l0.9 -0.5l0.9 -0.5l0.9 -0.5l0.8 -0.5l0.9 -0.5l0.9 -0.5l0.8 -0.5l0.9 -0.5l0.9 -0.5l0.8 -0.5l0.9 -0.5l0.8 -0.5l0.9 -0.5l0.9 -0.6l0.8 -0.5l0.9 -0.5l0.8 -0.5l0.9 -0.5l0.9 -0.5l0.8 -0.6l0.9 -0.5l0.8 -0.5l0.9 -0.5l0.8 -0.6l0.9 -0.5l0.8 -0.5l0.9 -0.5l0.8 -0.6l0.9 -0.5l0.8 -0.5l0.9 -0.6l0.8 -0.5l0.8 -0.6l0.9 -0.5l0.8 -0.6l0.9 -0.5l0.8 -0.5l0.8 -0.6l0.9 -0.5l0.8 -0.6l0.8 -0.5l0.9 -0.6l0.8 -0.6l0.8 -0.5l0.9 -0.6l0.8 -0.5l0.8 -0.6l0.8 -0.6l0.9 -0.5l0.8 -0.6l0.8 -0.6l0.8 -0.5l0.9 -0.6l0.8 -0.6l0.8 -0.5l0.8 -0.6l0.8 -0.6l0.9 -0.6l0.8 -0.6l0.8 -0.5l0.8 -0.6l0.8 -0.6l0.8 -0.6l0.8 -0.6l0.9 -0.6l0.8 -0.6l0.8 -0.5l0.8 -0.6l0.8 -0.6l0.8 -0.6l0.8 -0.6l0.8 -0.6l0.8 -0.6l0.8 -0.6l0.8 -0.6l0.8 -0.6l0.8 -0.6l0.8 -0.6l0.8 -0.6l0.8 -0.6l0.8 -0.6l0.8 -0.7l0.8 -0.6l0.8 -0.6l0.8 -0.6l0.7 -0.6l0.8 -0.6l0.8 -0.6l0.8 -0.7l0.8 -0.6l0.8 -0.6l0.8 -0.6l0.7 -0.6l0.8 -0.7l0.8 -0.6l0.8 -0.6l0.8 -0.7l0.7 -0.6l0.8 -0.6l0.8 -0.6l0.8 -0.7l0.7 -0.6l0.8 -0.6l0.8 -0.7l0.8 -0.6l0.7 -0.7l0.8 -0.6l0.8 -0.6l0.7 -0.7l0.8 -0.6l0.8 -0.7l0.7 -0.6l0.8 -0.7l0.8 -0.6l0.7 -0.7l0.8 -0.6l0.8 -0.6l0.7 -0.7l0.8 -0.7l0.7 -0.6l0.8 -0.7l0.7 -0.6l0.8 -0.7l0.8 -0.6l0.7 -0.7l0.8 -0.6l0.7 -0.7l0.8 -0.7l0.7 -0.6l0.8 -0.7l0.7 -0.7l0.8 -0.6l0.7 -0.7l0.8 -0.7l0.7 -0.6l0.7 -0.7l0.8 -0.7l0.7 -0.6l0.8 -0.7l0.7 -0.7l0.8 -0.7l0.7 -0.6l0.7 -0.7l0.8 -0.7l0.7 -0.7l0.7 -0.6l0.8 -0.7l0.7 -0.7l0.7 -0.7l0.8 -0.7l0.7 -0.6l0.7 -0.7l0.8 -0.7l0.7 -0.7l0.7 -0.7l0.8 -0.7l0.7 -0.7l0.7 -0.7l0.7 -0.6l0.8 -0.7l0.7 -0.7l0.7 -0.7l0.7 -0.7l0.7 -0.7l0.8 -0.7l0.7 -0.7l0.7 -0.7l0.7 -0.7l0.7 -0.7l0.7 -0.7l0.8 -0.7l0.7 -0.7l0.7 -0.7l0.7 -0.7l0.7 -0.7l0.7 -0.7l0.7 -0.7l0.7 -0.7l0.8 -0.7l0.7 -0.7l0.7 -0.7l0.7 -0.7l0.7 -0.8l0.7 -0.7l0.7 -0.7l0.7 -0.7l0.7 -0.7l0.7 -0.7l0.7 -0.7l0.7 -0.7l0.7 -0.8l0.7 -0.7l0.7 -0.7l0.7 -0.7l0.7 -0.7l0.7 -0.7l0.7 -0.8l0.7 -0.7l0.7 -0.7l0.7 -0.7l0.7 -0.8l0.6 -0.7l0.7 -0.7l0.7 -0.7l0.7 -0.8l0.7 -0.7l0.7 -0.7l0.7 -0.7l0.7 -0.8l0.7 -0.7l0.6 -0.7l0.7 -0.8l0.7 -0.7l0.7 -0.7l0.7 -0.7l0.7 -0.8l0.6 -0.7l0.7 -0.8l0.7 -0.7l0.7 -0.7l0.6 -0.8l0.7 -0.7l0.7 -0.7l0.7 -0.8l0.6 -0.7l0.7 -0.8l0.7 -0.7l0.7 -0.7l0.6 -0.8l0.7 -0.7l0.7 -0.8l0.7 -0.7l0.6 -0.7l0.7 -0.8l0.7 -0.7l0.6 -0.8l0.7 -0.7l0.7 -0.8l0.6 -0.7l0.7 -0.8l0.7 -0.7l0.6 -0.8l0.7 -0.7l0.6 -0.8l0.7 -0.7l0.7 -0.8l0.6 -0.7l0.7 -0.8l0.6 -0.7l0.7 -0.8l0.7 -0.7l0.6 -0.8l0.7 -0.7l0.6 -0.8l0.7 -0.8l0.6 -0.7l0.7 -0.8l0.6 -0.7l0.7 -0.8l0.7 -0.8l0.6 -0.7l0.7 -0.8l0.6 -0.7l0.7 -0.8l0.6 -0.8l0.7 -0.7l0.6 -0.8l0.6 -0.7l0.7 -0.8l0.6 -0.8l0.7 -0.7l0.6 -0.8l0.7 -0.8l0.6 -0.7l0.7 -0.8l0.6 -0.8l0.6 -0.7l0.7 -0.8l0.6 -0.8l0.7 -0.7l0.6 -0.8l0.6 -0.8l0.7 -0.8l0.6 -0.7l0.7 -0.8l0.6 -0.8l0.6 -0.7l0.7 -0.8l0.6 -0.8l0.6 -0.8l0.7 -0.7l0.6 -0.8l0.6 -0.8l0.7 -0.8l0.6 -0.7l0.6 -0.8l0.7 -0.8l0.6 -0.8l0.6 -0.7l0.7 -0.8l0.6 -0.8l0.6 -0.8l0.6 -0.8l0.7 -0.7l0.6 -0.8l0.6 -0.8l0.6 -0.8l0.7 -0.8l0.6 -0.8l0.6 -0.7l0.6 -0.8l0.7 -0.8l0.6 -0.8l0.6 -0.8l0.6 -0.8l0.6 -0.7l0.7 -0.8l0.6 -0.8l0.6 -0.8l0.6 -0.8l0.6 -0.8l0.7 -0.8l0.6 -0.7l0.6 -0.8l0.6 -0.8l0.6 -0.8l0.6 -0.8l0.7 -0.8l0.6 -0.8l0.6 -0.8l0.6 -0.8l0.6 -0.8l0.6 -0.7l0.6 -0.8l0.6 -0.8l0.7 -0.8l0.6 -0.8l0.6 -0.8l0.6 -0.8l0.6 -0.8l0.6 -0.8l0.6 -0.8l0.6 -0.8l0.6 -0.8l0.6 -0.8l0.6 -0.8l0.6 -0.8l0.6 -0.8l0.7 -0.8l0.6 -0.8l0.6 -0.8l0.6 -0.8l0.6 -0.8l0.6 -0.8l0.6 -0.8l0.6 -0.8l0.6 -0.8l0.6 -0.8l0.6 -0.8l0.6 -0.8l0.6 -0.8l0.6 -0.8l0.6 -0.8l0.6 -0.8l0.6 -0.8l0.6 -0.8l0.6 -0.8l0.6 -0.8l0.6 -0.8l0.5 -0.8l0.6 -0.8l0.6 -0.8l0.6 -0.8l0.6 -0.8l0.6 -0.8l0.6 -0.8l0.6 -0.8l0.6 -0.8l0.6 -0.8l0.6 -0.9l0.6 -0.8l0.6 -0.8l0.6 -0.8l0.5 -0.8l0.6 -0.8l0.6 -0.8l0.6 -0.8l0.6 -0.8l0.6 -0.8l0.6 -0.8l0.6 -0.9l0.5 -0.8l0.6 -0.8l0.6 -0.8l0.6 -0.8l0.6 -0.8l0.6 -0.8l0.5 -0.8l0.6 -0.9l0.6 -0.8l0.6 -0.8l0.6 -0.8l0.6 -0.8l0.5 -0.8l0.6 -0.8l0.6 -0.9l0.6 -0.8l0.6 -0.8l0.5 -0.8l0.6 -0.8l0.6 -0.8l0.6 -0.8l0.6 -0.9l0.5 -0.8l0.6 -0.8l0.6 -0.8l0.6 -0.8l0.5 -0.9l0.6 -0.8l0.6 -0.8l0.6 -0.8l0.5 -0.8l0.6 -0.9l0.6 -0.8l0.6 -0.8l0.5 -0.8l0.6 -0.8l0.6 -0.9l0.6 -0.8l0.5 -0.8l0.6 -0.8l0.6 -0.8l0.5 -0.9l0.6 -0.8l0.6 -0.8l0.6 -0.8l0.5 -0.9l0.6 -0.8l0.6 -0.8l0.5 -0.8l0.6 -0.8l0.6 -0.9l0.5 -0.8l0.6 -0.8l0.6 -0.8l0.5 -0.9l0.6 -0.8l0.6 -0.8l0.5 -0.9l0.6 -0.8l0.6 -0.8l0.5 -0.8l0.6 -0.9l0.5 -0.8l0.6 -0.8l0.6 -0.8l0.5 -0.9l0.6 -0.8l0.6 -0.8l0.5 -0.9l0.6 -0.8l0.5 -0.8l0.6 -0.8l0.6 -0.9l0.5 -0.8l0.6 -0.8l0.5 -0.9l0.6 -0.8l0.6 -0.8l0.5 -0.8l0.6 -0.9l0.5 -0.8l0.6 -0.8l0.5 -0.9l0.6 -0.8l0.6 -0.8l0.5 -0.9l0.6 -0.8l0.5 -0.8l0.6 -0.9l0.5 -0.8l0.6 -0.8l0.5 -0.9l0.6 -0.8l0.6 -0.8l0.5 -0.9l0.6 -0.8l0.5 -0.8l0.6 -0.9l0.5 -0.8l0.6 -0.8l0.5 -0.9l0.6 -0.8l0.5 -0.8l0.6 -0.9l0.5 -0.8l0.6 -0.8l0.5 -0.9l0.6 -0.8l0.5 -0.9l0.6 -0.8l0.5 -0.8l0.6 -0.9l0.5 -0.8l0.6 -0.8l0.5 -0.9l0.6 -0.8l0.5 -0.8l0.6 -0.9l0.5 -0.8l0.6 -0.9l0.5 -0.8l0.6 -0.8l0.5 -0.9l0.6 -0.8l0.5 -0.9l0.6 -0.8l0.5 -0.8l0.5 -0.9l0.6 -0.8l0.5 -0.8l0.6 -0.9l0.5 -0.8l0.6 -0.9l0.5 -0.8l0.6 -0.8l0.5 -0.9l0.6 -0.8l0.5 -0.9l0.5 -0.8l0.6 -0.8l0.5 -0.9l0.6 -0.8l0.5 -0.9l0.6 -0.8l0.5 -0.8l0.5 -0.9l0.6 -0.8l0.5 -0.9l0.6 -0.8l0.5 -0.9l0.5 -0.8l0.6 -0.8l0.5 -0.9l0.6 -0.8l0.5 -0.9l0.6 -0.8l0.5 -0.8l0.5 -0.9l0.6 -0.8l0.5 -0.9l0.6 -0.8l0.5 -0.9l0.5 -0.8l0.6 -0.8l0.5 -0.9l0.6 -0.8l0.5 -0.9l0.5 -0.8l0.6 -0.9l0.5 -0.8l0.5 -0.9l0.6 -0.8l0.5 -0.8l0.6 -0.9l0.5 -0.8l0.5 -0.9l0.6 -0.8l0.5 -0.9l0.5 -0.8l0.6 -0.8l0.5 -0.9l0.6 -0.8l0.5 -0.9l0.5 -0.8l0.6 -0.9l0.5 -0.8l0.5 -0.9l0.6 -0.8l0.5 -0.9l0.5 -0.8l0.6 -0.8l0.5 -0.9l0.6 -0.8l0.5 -0.9l0.5 -0.8l0.6 -0.9l0.5 -0.8l0.5 -0.9l0.6 -0.8l0.5 -0.9l0.5 -0.8l0.6 -0.8l0.5 -0.9l0.5 -0.8l0.6 -0.9l0.5 -0.8l0.5 -0.9l0.6 -0.8l0.5 -0.9l0.5 -0.8l0.6 -0.9l0.5 -0.8l0.5 -0.9l0.6 -0.8l0.5 -0.9l0.5 -0.8l0.6 -0.8l0.5 -0.9l0.5 -0.8l0.6 -0.9l0.5 -0.8l0.5 -0.9l0.6 -0.8l0.5 -0.9l0.5 -0.8l0.6 -0.9l0.5 -0.8l0.5 -0.9l0.6 -0.8l0.5 -0.9l0.5 -0.8l0.6 -0.9l0.5 -0.8l0.5 -0.9l0.6 -0.8l0.5 -0.9l0.5 -0.8l0.5 -0.8l0.6 -0.9l0.5 -0.8l0.5 -0.9l0.6 -0.8l0.5 -0.9l0.5 -0.8l0.6 -0.9l0.5 -0.8l0.5 -0.9l0.6 -0.8l0.5 -0.9l0.5 -0.8l0.6 -0.9l0.5 -0.8l0.5 -0.9l0.5 -0.8l0.6 -0.9l0.5 -0.8l0.5 -0.9l0.6 -0.8l0.5 -0.9l0.5 -0.8l0.6 -0.9l0.5 -0.8l0.5 -0.9l0.6 -0.8l0.5 -0.9l0.5 -0.8l0.5 -0.9l0.6 -0.8l0.5 -0.8l0.5 -0.9l0.6 -0.8l0.5 -0.9l0.5 -0.8l0.6 -0.9l0.5 -0.8l0.5 -0.9l0.5 -0.8l0.6 -0.9l0.5 -0.8l0.5 -0.9l0.6 -0.8l0.5 -0.9l0.5 -0.8l0.6 -0.9l0.5 -0.8l0.5 -0.9l0.5 -0.8l0.6 -0.9l0.5 -0.8l0.5 -0.9l0.6 -0.8l0.5 -0.9l0.5 -0.8l0.6 -0.9l0.5 -0.8l0.5 -0.9l0.6 -0.8l0.5 -0.9l0.5 -0.8l0.5 -0.9l0.6 -0.8l0.5 -0.9l0.5 -0.8l0.6 -0.9l0.5 -0.8l0.5 -0.9l0.6 -0.8l0.5 -0.9l0.5 -0.8l0.5 -0.8l0.6 -0.9l0.5 -0.8l0.5 -0.9l0.6 -0.8l0.5 -0.9l0.5 -0.8l0.6 -0.9l0.5 -0.8l0.5 -0.9l0.6 -0.8l0.5 -0.9l0.5 -0.8l0.6 -0.9l0.5 -0.8l0.5 -0.9l0.5 -0.8l0.6 -0.9l0.5 -0.8l0.5 -0.9l0.6 -0.8l0.5 -0.9l0.5 -0.8l0.6 -0.9l0.5 -0.8l0.5 -0.9l0.6 -0.8l0.5 -0.8l0.5 -0.9l0.6 -0.8l0.5 -0.9l0.5 -0.8l0.6 -0.9l0.5 -0.8l0.5 -0.9l0.6 -0.8l0.5 -0.9l0.5 -0.8l0.6 -0.9l0.5 -0.8l0.5 -0.9l0.6 -0.8l0.5 -0.9l0.5 -0.8l0.6 -0.8l0.5 -0.9l0.5 -0.8l0.6 -0.9l0.5 -0.8l0.5 -0.9l0.6 -0.8l0.5 -0.9l0.5 -0.8l0.6 -0.9l0.5 -0.8l0.5 -0.9l0.6 -0.8l0.5 -0.9l0.5 -0.8l0.6 -0.8l0.5 -0.9l0.5 -0.8l0.6 -0.9l0.5 -0.8l0.5 -0.9l0.6 -0.8l0.5 -0.9l0.6 -0.8l0.5 -0.9l0.5 -0.8l0.6 -0.8l0.5 -0.9l0.5 -0.8l0.6 -0.9l0.5 -0.8l0.5 -0.9l0.6 -0.8l0.5 -0.9l0.6 -0.8l0.5 -0.8l0.5 -0.9l0.6 -0.8l0.5 -0.9l0.5 -0.8l0.6 -0.9l0.5 -0.8l0.6 -0.8l0.5 -0.9l0.5 -0.8l0.6 -0.9l0.5 -0.8l0.6 -0.9l0.5 -0.8l0.5 -0.9l0.6 -0.8l0.5 -0.8l0.6 -0.9l0.5 -0.8l0.5 -0.9l0.6 -0.8l0.5 -0.8l0.6 -0.9l0.5 -0.8l0.5 -0.9l0.6 -0.8l0.5 -0.9l0.6 -0.8l0.5 -0.8l0.6 -0.9l0.5 -0.8l0.5 -0.9l0.6 -0.8l0.5 -0.8l0.6 -0.9l0.5 -0.8l0.6 -0.9l0.5 -0.8l0.5 -0.8l0.6 -0.9l0.5 -0.8l0.6 -0.9l0.5 -0.8l0.6 -0.8l0.5 -0.9l0.6 -0.8l0.5 -0.9l0.5 -0.8l0.6 -0.8l0.5 -0.9l0.6 -0.8l0.5 -0.9l0.6 -0.8l0.5 -0.8l0.6 -0.9l0.5 -0.8l0.6 -0.8l0.5 -0.9l0.6 -0.8l0.5 -0.9l0.6 -0.8l0.5 -0.8l0.6 -0.9l0.5 -0.8l0.6 -0.8l0.5 -0.9l0.6 -0.8l0.5 -0.9l0.6 -0.8l0.5 -0.8l0.6 -0.9l0.5 -0.8l0.6 -0.8l0.5 -0.9l0.6 -0.8l0.5 -0.8l0.6 -0.9l0.5 -0.8l0.6 -0.8l0.5 -0.9l0.6 -0.8l0.5 -0.8l0.6 -0.9l0.5 -0.8l0.6 -0.8l0.6 -0.9l0.5 -0.8l0.6 -0.8l0.5 -0.9l0.6 -0.8l0.5 -0.8l0.6 -0.9l0.5 -0.8l0.6 -0.8l0.6 -0.9l0.5 -0.8l0.6 -0.8l0.5 -0.9l0.6 -0.8l0.6 -0.8l0.5 -0.8l0.6 -0.9l0.5 -0.8l0.6 -0.8l0.6 -0.9l0.5 -0.8l0.6 -0.8l0.5 -0.8l0.6 -0.9l0.6 -0.8l0.5 -0.8l0.6 -0.9l0.5 -0.8l0.6 -0.8l0.6 -0.8l0.5 -0.9l0.6 -0.8l0.6 -0.8l0.5 -0.8l0.6 -0.9l0.6 -0.8l0.5 -0.8l0.6 -0.8l0.6 -0.9l0.5 -0.8l0.6 -0.8l0.6 -0.8l0.5 -0.9l0.6 -0.8l0.6 -0.8l0.5 -0.8l0.6 -0.9l0.6 -0.8l0.5 -0.8l0.6 -0.8l0.6 -0.9l0.6 -0.8l0.5 -0.8l0.6 -0.8l0.6 -0.8l0.5 -0.9l0.6 -0.8l0.6 -0.8l0.6 -0.8l0.5 -0.8l0.6 -0.9l0.6 -0.8l0.6 -0.8l0.5 -0.8l0.6 -0.8l0.6 -0.9l0.6 -0.8l0.6 -0.8l0.5 -0.8l0.6 -0.8l0.6 -0.8l0.6 -0.9l0.6 -0.8l0.5 -0.8l0.6 -0.8l0.6 -0.8l0.6 -0.8l0.6 -0.8l0.5 -0.9l0.6 -0.8l0.6 -0.8l0.6 -0.8l0.6 -0.8l0.6 -0.8l0.5 -0.8l0.6 -0.8l0.6 -0.9l0.6 -0.8l0.6 -0.8l0.6 -0.8l0.6 -0.8l0.6 -0.8l0.5 -0.8l0.6 -0.8l0.6 -0.8l0.6 -0.8l0.6 -0.8l0.6 -0.9l0.6 -0.8l0.6 -0.8l0.6 -0.8l0.6 -0.8l0.6 -0.8l0.6 -0.8l0.6 -0.8l0.5 -0.8l0.6 -0.8l0.6 -0.8l0.6 -0.8l0.6 -0.8l0.6 -0.8l0.6 -0.8l0.6 -0.8l0.6 -0.8l0.6 -0.8l0.6 -0.8l0.6 -0.8l0.6 -0.8l0.6 -0.8l0.6 -0.8l0.6 -0.8l0.7 -0.8l0.6 -0.8l0.6 -0.8l0.6 -0.8l0.6 -0.8l0.6 -0.8l0.6 -0.8l0.6 -0.8l0.6 -0.8l0.6 -0.8l0.6 -0.8l0.6 -0.8l0.7 -0.7l0.6 -0.8l0.6 -0.8l0.6 -0.8l0.6 -0.8l0.6 -0.8l0.6 -0.8l0.7 -0.8l0.6 -0.8l0.6 -0.7l0.6 -0.8l0.6 -0.8l0.7 -0.8l0.6 -0.8l0.6 -0.8l0.6 -0.8l0.6 -0.7l0.7 -0.8l0.6 -0.8l0.6 -0.8l0.6 -0.8l0.7 -0.7l0.6 -0.8l0.6 -0.8l0.7 -0.8l0.6 -0.8l0.6 -0.7l0.6 -0.8l0.7 -0.8l0.6 -0.8l0.6 -0.7l0.7 -0.8l0.6 -0.8l0.7 -0.8l0.6 -0.7l0.6 -0.8l0.7 -0.8l0.6 -0.7l0.6 -0.8l0.7 -0.8l0.6 -0.8l0.7 -0.7l0.6 -0.8l0.7 -0.8l0.6 -0.7l0.6 -0.8l0.7 -0.7l0.6 -0.8l0.7 -0.8l0.6 -0.7l0.7 -0.8l0.6 -0.8l0.7 -0.7l0.6 -0.8l0.7 -0.7l0.7 -0.8l0.6 -0.7l0.7 -0.8l0.6 -0.8l0.7 -0.7l0.6 -0.8l0.7 -0.7l0.7 -0.8l0.6 -0.7l0.7 -0.8l0.7 -0.7l0.6 -0.8l0.7 -0.7l0.7 -0.7l0.6 -0.8l0.7 -0.7l0.7 -0.8l0.6 -0.7l0.7 -0.8l0.7 -0.7l0.7 -0.7l0.6 -0.8l0.7 -0.7l0.7 -0.8l0.7 -0.7l0.7 -0.7l0.6 -0.8l0.7 -0.7l0.7 -0.7l0.7 -0.7l0.7 -0.8l0.7 -0.7l0.6 -0.7l0.7 -0.8l0.7 -0.7l0.7 -0.7l0.7 -0.7l0.7 -0.7l0.7 -0.8l0.7 -0.7l0.7 -0.7l0.7 -0.7l0.7 -0.7l0.7 -0.7l0.7 -0.8l0.7 -0.7l0.7 -0.7l0.7 -0.7l0.7 -0.7l0.7 -0.7l0.7 -0.7l0.8 -0.7l0.7 -0.7l0.7 -0.7l0.7 -0.7l0.7 -0.7l0.7 -0.7l0.7 -0.7l0.8 -0.7l0.7 -0.7l0.7 -0.7l0.7 -0.7l0.8 -0.7l0.7 -0.6l0.7 -0.7l0.8 -0.7l0.7 -0.7l0.7 -0.7l0.8 -0.7l0.7 -0.6l0.7 -0.7l0.8 -0.7l0.7 -0.7l0.8 -0.6l0.7 -0.7l0.7 -0.7l0.8 -0.6l0.7 -0.7l0.8 -0.7l0.7 -0.6l0.8 -0.7l0.8 -0.6l0.7 -0.7l0.8 -0.6l0.7 -0.7l0.8 -0.6l0.8 -0.7l0.7 -0.6l0.8 -0.7l0.7 -0.6l0.8 -0.7l0.8 -0.6l0.8 -0.6l0.7 -0.7l0.8 -0.6l0.8 -0.6l0.8 -0.7l0.7 -0.6l0.8 -0.6l0.8 -0.7l0.8 -0.6l0.8 -0.6l0.8 -0.6l0.7 -0.6l0.8 -0.6l0.8 -0.7l0.8 -0.6l0.8 -0.6l0.8 -0.6l0.8 -0.6l0.8 -0.6l0.8 -0.6l0.8 -0.6l0.8 -0.6l0.8 -0.6l0.8 -0.6l0.8 -0.6l0.8 -0.6l0.9 -0.5l0.8 -0.6l0.8 -0.6l0.8 -0.6l0.8 -0.6l0.8 -0.6l0.8 -0.5l0.9 -0.6l0.8 -0.6l0.8 -0.5l0.8 -0.6l0.9 -0.6l0.8 -0.5l0.8 -0.6l0.8 -0.6l0.9 -0.5l0.8 -0.6l0.8 -0.5l0.9 -0.6l0.8 -0.5l0.9 -0.6l0.8 -0.5l0.8 -0.5l0.9 -0.6l0.8 -0.5l0.9 -0.6l0.8 -0.5l0.9 -0.5l0.8 -0.5l0.9 -0.6l0.8 -0.5l0.9 -0.5l0.8 -0.5l0.9 -0.6l0.8 -0.5l0.9 -0.5l0.9 -0.5l0.8 -0.5l0.9 -0.5l0.9 -0.5l0.8 -0.5l0.9 -0.5l0.9 -0.5l0.8 -0.5l0.9 -0.5l0.9 -0.5l0.8 -0.5l0.9 -0.5l0.9 -0.5l0.9 -0.5l0.8 -0.4l0.9 -0.5l0.9 -0.5l0.9 -0.5l0.9 -0.4l0.8 -0.5l0.9 -0.5l0.9 -0.4l0.9 -0.5l0.9 -0.5l0.9 -0.4l0.9 -0.5l0.9 -0.4l0.9 -0.5l0.8 -0.5l0.9 -0.4l0.9 -0.5l0.9 -0.4l0.9 -0.4l0.9 -0.5l0.9 -0.4l0.9 -0.5l0.9 -0.4l0.9 -0.4l0.9 -0.5l0.9 -0.4l0.9 -0.5l0.9 -0.4l0.9 -0.4l0.9 -0.4l0.9 -0.5l0.9 -0.4l1 -0.4l0.9 -0.4l0.9 -0.5l0.9 -0.4l0.9 -0.4l0.9 -0.4l0.9 -0.4l0.9 -0.4l0.9 -0.4l0.9 -0.5l1 -0.4l0.9 -0.4l0.9 -0.4l0.9 -0.4l0.9 -0.4l0.9 -0.4l1 -0.4l0.9 -0.4l0.9 -0.4l0.9 -0.4l0.9 -0.4l0.9 -0.4l1 -0.4l0.9 -0.4l0.9 -0.4l0.9 -0.4l0.9 -0.4l1 -0.4l0.9 -0.4l0.9 -0.4l0.9 -0.4l0.9 -0.3l1 -0.4l0.9 -0.4l0.9 -0.4l0.9 -0.4l0.9 -0.4l1 -0.4l0.9 -0.4l0.9 -0.4l0.9 -0.4l1 -0.3l0.9 -0.4l0.9 -0.4" fill="none" stroke="#f00" stroke-width="5.8" stroke-dasharray="5.2 1.9" stroke-linejoin="round"/>
</g>
<rect x="255.5" y="79.5" width="541" height="284" fill="#fff" stroke="#262626" stroke-width="3"/>
<text transform="translate(385,121.0) scale(1,1.04)" fill="#000" class="sf lg">1-Nav model(Left y-axis)</text>
<text transform="translate(385,166.3) scale(1,1.04)" fill="#000" class="sf lg">1-Analytical model(L y)</text>
<text transform="translate(385,211.6) scale(1,1.04)" fill="#000" class="sf lg">3-Nav model(L y)</text>
<text transform="translate(385,256.9) scale(1,1.04)" fill="#000" class="sf lg">3-Analytical model(L y)</text>
<text transform="translate(385,302.2) scale(1,1.04)" fill="#000" class="sf lg">2-Nav model(Right y-axis)</text>
<text transform="translate(385,347.5) scale(1,1.04)" fill="#000" class="sf lg">2-Analytical model(R y)</text>
<line x1="269" y1="108" x2="375" y2="108" stroke="#00f" stroke-width="5.5" stroke-dasharray="15 13"/>
<line x1="269" y1="153.5" x2="372" y2="153.5" stroke="#00f" stroke-width="5" stroke-dasharray="5 2"/>
<circle cx="323" cy="153.5" r="5.7" fill="#00f"/>
<circle cx="322" cy="199" r="5.3" fill="#000"/>
<line x1="269" y1="244" x2="375" y2="244" stroke="#000" stroke-width="6" stroke-dasharray="15 3 7 3"/>
<line x1="269" y1="289.5" x2="375" y2="289.5" stroke="#f00" stroke-width="5"/>
<line x1="269" y1="335" x2="372" y2="335" stroke="#f00" stroke-width="6" stroke-dasharray="4.5 2.5"/>
</svg>
</body></html>
